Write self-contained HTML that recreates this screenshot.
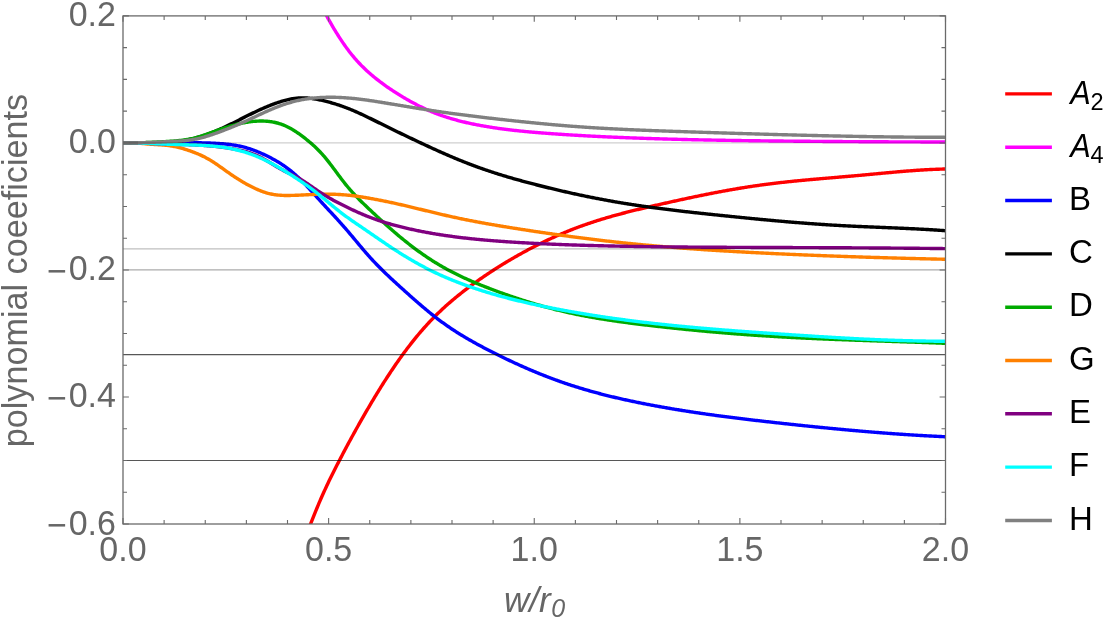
<!DOCTYPE html>
<html><head><meta charset="utf-8"><title>polynomial coefficients</title>
<style>html,body{margin:0;padding:0;background:#fff;}body{width:1104px;height:620px;overflow:hidden;}svg{display:block;}</style>
</head><body>
<svg width="1104" height="620" viewBox="0 0 1104 620">
<defs><clipPath id="pc"><rect x="123.00" y="15.90" width="822.50" height="508.10"/></clipPath></defs>
<g clip-path="url(#pc)" fill="none" stroke-width="3.40" stroke-linejoin="round" stroke-linecap="butt">
<path d="M300.00,551.81 301.00,549.16 302.00,546.51 303.00,543.87 304.00,541.23 305.00,538.59 306.00,535.96 307.00,533.34 308.00,530.73 309.00,528.13 310.00,525.54 311.00,522.97 312.00,520.42 313.00,517.89 314.00,515.38 315.00,512.89 316.00,510.43 317.00,507.99 318.00,505.59 319.00,503.21 320.00,500.86 321.00,498.55 322.00,496.27 323.00,494.02 324.00,491.80 325.00,489.61 326.00,487.44 327.00,485.31 328.00,483.19 329.00,481.10 330.00,479.03 331.00,476.98 332.00,474.96 333.00,472.95 334.00,470.95 335.00,468.97 336.00,467.01 337.00,465.06 338.00,463.12 339.00,461.19 340.00,459.26 341.00,457.35 342.00,455.45 343.00,453.55 344.00,451.66 345.00,449.77 346.00,447.90 347.00,446.03 348.00,444.17 349.00,442.31 350.00,440.47 351.00,438.63 352.00,436.79 353.00,434.97 354.00,433.15 355.00,431.34 356.00,429.54 357.00,427.75 358.00,425.96 359.00,424.18 360.00,422.41 361.00,420.64 362.00,418.88 363.00,417.13 364.00,415.39 365.00,413.65 366.00,411.92 367.00,410.20 368.00,408.49 369.00,406.78 370.00,405.08 371.00,403.39 372.00,401.71 373.00,400.03 374.00,398.37 375.00,396.71 376.00,395.06 377.00,393.42 378.00,391.79 379.00,390.16 380.00,388.55 381.00,386.95 382.00,385.35 383.00,383.76 384.00,382.19 385.00,380.62 386.00,379.06 387.00,377.52 388.00,375.98 389.00,374.45 390.00,372.94 391.00,371.43 392.00,369.94 393.00,368.45 394.00,366.98 395.00,365.52 396.00,364.06 397.00,362.62 398.00,361.19 399.00,359.78 400.00,358.37 401.00,356.97 402.00,355.59 403.00,354.22 404.00,352.86 405.00,351.50 406.00,350.17 407.00,348.84 408.00,347.52 409.00,346.21 410.00,344.92 411.00,343.64 412.00,342.37 413.00,341.11 414.00,339.86 415.00,338.62 416.00,337.39 417.00,336.18 418.00,334.98 419.00,333.78 420.00,332.60 421.00,331.44 422.00,330.28 423.00,329.13 424.00,328.00 425.00,326.88 426.00,325.77 427.00,324.67 428.00,323.58 429.00,322.50 430.00,321.44 431.00,320.38 432.00,319.34 433.00,318.31 434.00,317.29 435.00,316.28 436.00,315.29 437.00,314.30 438.00,313.32 439.00,312.35 440.00,311.40 441.00,310.45 442.00,309.51 443.00,308.58 444.00,307.67 445.00,306.76 446.00,305.85 447.00,304.96 448.00,304.08 449.00,303.20 450.00,302.34 451.00,301.48 452.00,300.62 453.00,299.78 454.00,298.94 455.00,298.11 456.00,297.29 457.00,296.48 458.00,295.67 459.00,294.86 460.00,294.07 461.00,293.28 462.00,292.49 463.00,291.72 464.00,290.94 465.00,290.18 466.00,289.41 467.00,288.66 468.00,287.90 469.00,287.16 470.00,286.41 471.00,285.67 472.00,284.94 473.00,284.21 474.00,283.48 475.00,282.76 476.00,282.04 477.00,281.33 478.00,280.62 479.00,279.91 480.00,279.21 481.00,278.51 482.00,277.82 483.00,277.13 484.00,276.44 485.00,275.76 486.00,275.08 487.00,274.41 488.00,273.74 489.00,273.08 490.00,272.41 491.00,271.75 492.00,271.10 493.00,270.45 494.00,269.80 495.00,269.16 496.00,268.52 497.00,267.88 498.00,267.25 499.00,266.62 500.00,266.00 501.00,265.38 502.00,264.76 503.00,264.14 504.00,263.53 505.00,262.93 506.00,262.32 507.00,261.72 508.00,261.12 509.00,260.53 510.00,259.94 511.00,259.35 512.00,258.77 513.00,258.19 514.00,257.61 515.00,257.04 516.00,256.47 517.00,255.90 518.00,255.34 519.00,254.78 520.00,254.22 521.00,253.67 522.00,253.11 523.00,252.57 524.00,252.02 525.00,251.48 526.00,250.94 527.00,250.40 528.00,249.87 529.00,249.34 530.00,248.82 531.00,248.29 532.00,247.77 533.00,247.26 534.00,246.74 535.00,246.23 536.00,245.72 537.00,245.22 538.00,244.72 539.00,244.22 540.00,243.73 541.00,243.23 542.00,242.75 543.00,242.26 544.00,241.78 545.00,241.30 546.00,240.82 547.00,240.35 548.00,239.88 549.00,239.41 550.00,238.95 551.00,238.49 552.00,238.03 553.00,237.58 554.00,237.13 555.00,236.68 556.00,236.24 557.00,235.80 558.00,235.36 559.00,234.92 560.00,234.49 561.00,234.06 562.00,233.64 563.00,233.22 564.00,232.80 565.00,232.38 566.00,231.97 567.00,231.56 568.00,231.15 569.00,230.75 570.00,230.35 571.00,229.95 572.00,229.56 573.00,229.17 574.00,228.78 575.00,228.40 576.00,228.02 577.00,227.64 578.00,227.27 579.00,226.90 580.00,226.53 581.00,226.16 582.00,225.80 583.00,225.44 584.00,225.09 585.00,224.74 586.00,224.39 587.00,224.04 588.00,223.70 589.00,223.36 590.00,223.02 591.00,222.68 592.00,222.35 593.00,222.02 594.00,221.70 595.00,221.37 596.00,221.05 597.00,220.73 598.00,220.42 599.00,220.10 600.00,219.79 601.00,219.48 602.00,219.18 603.00,218.87 604.00,218.57 605.00,218.27 606.00,217.98 607.00,217.68 608.00,217.39 609.00,217.10 610.00,216.81 611.00,216.53 612.00,216.24 613.00,215.96 614.00,215.68 615.00,215.41 616.00,215.13 617.00,214.86 618.00,214.59 619.00,214.32 620.00,214.05 621.00,213.78 622.00,213.52 623.00,213.25 624.00,212.99 625.00,212.73 626.00,212.47 627.00,212.22 628.00,211.96 629.00,211.71 630.00,211.45 631.00,211.20 632.00,210.95 633.00,210.71 634.00,210.46 635.00,210.21 636.00,209.97 637.00,209.72 638.00,209.48 639.00,209.24 640.00,209.00 641.00,208.76 642.00,208.52 643.00,208.29 644.00,208.05 645.00,207.82 646.00,207.58 647.00,207.35 648.00,207.11 649.00,206.88 650.00,206.65 651.00,206.42 652.00,206.19 653.00,205.96 654.00,205.73 655.00,205.50 656.00,205.27 657.00,205.05 658.00,204.82 659.00,204.59 660.00,204.37 661.00,204.14 662.00,203.91 663.00,203.69 664.00,203.46 665.00,203.24 666.00,203.01 667.00,202.79 668.00,202.57 669.00,202.34 670.00,202.12 671.00,201.90 672.00,201.68 673.00,201.45 674.00,201.23 675.00,201.01 676.00,200.79 677.00,200.57 678.00,200.35 679.00,200.13 680.00,199.92 681.00,199.70 682.00,199.48 683.00,199.27 684.00,199.05 685.00,198.83 686.00,198.62 687.00,198.40 688.00,198.19 689.00,197.98 690.00,197.77 691.00,197.55 692.00,197.34 693.00,197.13 694.00,196.92 695.00,196.71 696.00,196.51 697.00,196.30 698.00,196.09 699.00,195.88 700.00,195.68 701.00,195.47 702.00,195.27 703.00,195.07 704.00,194.87 705.00,194.66 706.00,194.46 707.00,194.26 708.00,194.07 709.00,193.87 710.00,193.67 711.00,193.47 712.00,193.28 713.00,193.08 714.00,192.89 715.00,192.70 716.00,192.51 717.00,192.31 718.00,192.12 719.00,191.94 720.00,191.75 721.00,191.56 722.00,191.37 723.00,191.19 724.00,191.01 725.00,190.82 726.00,190.64 727.00,190.46 728.00,190.28 729.00,190.10 730.00,189.92 731.00,189.75 732.00,189.57 733.00,189.40 734.00,189.23 735.00,189.05 736.00,188.88 737.00,188.71 738.00,188.55 739.00,188.38 740.00,188.21 741.00,188.05 742.00,187.88 743.00,187.72 744.00,187.56 745.00,187.40 746.00,187.24 747.00,187.09 748.00,186.93 749.00,186.78 750.00,186.62 751.00,186.47 752.00,186.32 753.00,186.17 754.00,186.02 755.00,185.88 756.00,185.73 757.00,185.59 758.00,185.45 759.00,185.31 760.00,185.17 761.00,185.03 762.00,184.89 763.00,184.76 764.00,184.62 765.00,184.49 766.00,184.36 767.00,184.23 768.00,184.10 769.00,183.97 770.00,183.85 771.00,183.72 772.00,183.60 773.00,183.48 774.00,183.36 775.00,183.24 776.00,183.12 777.00,183.00 778.00,182.89 779.00,182.77 780.00,182.66 781.00,182.55 782.00,182.43 783.00,182.32 784.00,182.21 785.00,182.10 786.00,182.00 787.00,181.89 788.00,181.78 789.00,181.68 790.00,181.57 791.00,181.47 792.00,181.37 793.00,181.27 794.00,181.16 795.00,181.06 796.00,180.97 797.00,180.87 798.00,180.77 799.00,180.67 800.00,180.58 801.00,180.48 802.00,180.38 803.00,180.29 804.00,180.20 805.00,180.10 806.00,180.01 807.00,179.92 808.00,179.83 809.00,179.74 810.00,179.65 811.00,179.55 812.00,179.47 813.00,179.38 814.00,179.29 815.00,179.20 816.00,179.11 817.00,179.02 818.00,178.94 819.00,178.85 820.00,178.76 821.00,178.68 822.00,178.59 823.00,178.50 824.00,178.42 825.00,178.33 826.00,178.25 827.00,178.16 828.00,178.08 829.00,177.99 830.00,177.91 831.00,177.82 832.00,177.74 833.00,177.66 834.00,177.57 835.00,177.49 836.00,177.40 837.00,177.32 838.00,177.23 839.00,177.15 840.00,177.06 841.00,176.98 842.00,176.90 843.00,176.81 844.00,176.73 845.00,176.64 846.00,176.55 847.00,176.47 848.00,176.38 849.00,176.30 850.00,176.21 851.00,176.12 852.00,176.04 853.00,175.95 854.00,175.86 855.00,175.77 856.00,175.68 857.00,175.60 858.00,175.51 859.00,175.42 860.00,175.33 861.00,175.24 862.00,175.14 863.00,175.05 864.00,174.96 865.00,174.87 866.00,174.78 867.00,174.68 868.00,174.59 869.00,174.50 870.00,174.40 871.00,174.31 872.00,174.21 873.00,174.12 874.00,174.02 875.00,173.93 876.00,173.84 877.00,173.74 878.00,173.65 879.00,173.55 880.00,173.46 881.00,173.36 882.00,173.27 883.00,173.18 884.00,173.08 885.00,172.99 886.00,172.90 887.00,172.80 888.00,172.71 889.00,172.62 890.00,172.53 891.00,172.44 892.00,172.35 893.00,172.26 894.00,172.17 895.00,172.08 896.00,171.99 897.00,171.90 898.00,171.81 899.00,171.73 900.00,171.64 901.00,171.56 902.00,171.47 903.00,171.39 904.00,171.31 905.00,171.23 906.00,171.14 907.00,171.06 908.00,170.99 909.00,170.91 910.00,170.83 911.00,170.75 912.00,170.68 913.00,170.61 914.00,170.53 915.00,170.46 916.00,170.39 917.00,170.32 918.00,170.26 919.00,170.19 920.00,170.12 921.00,170.06 922.00,170.00 923.00,169.94 924.00,169.88 925.00,169.82 926.00,169.76 927.00,169.71 928.00,169.66 929.00,169.60 930.00,169.55 931.00,169.50 932.00,169.46 933.00,169.41 934.00,169.37 935.00,169.33 936.00,169.29 937.00,169.25 938.00,169.22 939.00,169.18 940.00,169.15 941.00,169.12 942.00,169.09 943.00,169.07 944.00,169.04 945.00,169.02 946.00,169.00 947.00,168.98 948.00,168.97 949.00,168.95 950.00,168.94" stroke="#ff0000"/>
<path d="M321.00,5.00 322.00,7.00 323.00,8.97 324.00,10.90 325.00,12.81 326.00,14.69 327.00,16.54 328.00,18.36 329.00,20.15 330.00,21.92 331.00,23.67 332.00,25.39 333.00,27.08 334.00,28.76 335.00,30.41 336.00,32.04 337.00,33.65 338.00,35.24 339.00,36.81 340.00,38.35 341.00,39.87 342.00,41.37 343.00,42.85 344.00,44.30 345.00,45.72 346.00,47.12 347.00,48.50 348.00,49.85 349.00,51.17 350.00,52.47 351.00,53.73 352.00,54.98 353.00,56.19 354.00,57.38 355.00,58.55 356.00,59.69 357.00,60.81 358.00,61.91 359.00,62.98 360.00,64.04 361.00,65.07 362.00,66.09 363.00,67.08 364.00,68.06 365.00,69.02 366.00,69.96 367.00,70.89 368.00,71.80 369.00,72.70 370.00,73.58 371.00,74.45 372.00,75.31 373.00,76.15 374.00,76.98 375.00,77.80 376.00,78.61 377.00,79.40 378.00,80.19 379.00,80.96 380.00,81.73 381.00,82.48 382.00,83.23 383.00,83.96 384.00,84.69 385.00,85.40 386.00,86.11 387.00,86.81 388.00,87.50 389.00,88.19 390.00,88.86 391.00,89.53 392.00,90.20 393.00,90.85 394.00,91.50 395.00,92.15 396.00,92.79 397.00,93.42 398.00,94.05 399.00,94.67 400.00,95.29 401.00,95.90 402.00,96.51 403.00,97.11 404.00,97.71 405.00,98.30 406.00,98.88 407.00,99.46 408.00,100.03 409.00,100.60 410.00,101.15 411.00,101.71 412.00,102.26 413.00,102.80 414.00,103.33 415.00,103.86 416.00,104.38 417.00,104.90 418.00,105.41 419.00,105.91 420.00,106.41 421.00,106.90 422.00,107.38 423.00,107.86 424.00,108.33 425.00,108.80 426.00,109.25 427.00,109.70 428.00,110.15 429.00,110.58 430.00,111.01 431.00,111.43 432.00,111.85 433.00,112.26 434.00,112.66 435.00,113.06 436.00,113.45 437.00,113.83 438.00,114.20 439.00,114.57 440.00,114.94 441.00,115.29 442.00,115.65 443.00,115.99 444.00,116.33 445.00,116.66 446.00,116.99 447.00,117.31 448.00,117.63 449.00,117.94 450.00,118.25 451.00,118.55 452.00,118.85 453.00,119.14 454.00,119.42 455.00,119.70 456.00,119.98 457.00,120.25 458.00,120.52 459.00,120.78 460.00,121.04 461.00,121.29 462.00,121.54 463.00,121.78 464.00,122.02 465.00,122.26 466.00,122.49 467.00,122.72 468.00,122.95 469.00,123.17 470.00,123.38 471.00,123.60 472.00,123.81 473.00,124.02 474.00,124.22 475.00,124.42 476.00,124.62 477.00,124.81 478.00,125.01 479.00,125.19 480.00,125.38 481.00,125.56 482.00,125.75 483.00,125.92 484.00,126.10 485.00,126.27 486.00,126.44 487.00,126.61 488.00,126.78 489.00,126.94 490.00,127.10 491.00,127.26 492.00,127.42 493.00,127.57 494.00,127.72 495.00,127.87 496.00,128.02 497.00,128.17 498.00,128.31 499.00,128.45 500.00,128.59 501.00,128.73 502.00,128.86 503.00,129.00 504.00,129.13 505.00,129.26 506.00,129.38 507.00,129.51 508.00,129.63 509.00,129.75 510.00,129.87 511.00,129.99 512.00,130.11 513.00,130.22 514.00,130.34 515.00,130.45 516.00,130.56 517.00,130.66 518.00,130.77 519.00,130.88 520.00,130.98 521.00,131.08 522.00,131.18 523.00,131.28 524.00,131.38 525.00,131.48 526.00,131.57 527.00,131.67 528.00,131.76 529.00,131.85 530.00,131.94 531.00,132.03 532.00,132.12 533.00,132.21 534.00,132.29 535.00,132.38 536.00,132.46 537.00,132.55 538.00,132.63 539.00,132.71 540.00,132.79 541.00,132.87 542.00,132.95 543.00,133.02 544.00,133.10 545.00,133.18 546.00,133.25 547.00,133.33 548.00,133.40 549.00,133.48 550.00,133.55 551.00,133.62 552.00,133.69 553.00,133.77 554.00,133.84 555.00,133.91 556.00,133.98 557.00,134.05 558.00,134.11 559.00,134.18 560.00,134.25 561.00,134.32 562.00,134.38 563.00,134.45 564.00,134.52 565.00,134.58 566.00,134.64 567.00,134.71 568.00,134.77 569.00,134.84 570.00,134.90 571.00,134.96 572.00,135.02 573.00,135.08 574.00,135.14 575.00,135.20 576.00,135.26 577.00,135.32 578.00,135.38 579.00,135.44 580.00,135.50 581.00,135.55 582.00,135.61 583.00,135.67 584.00,135.72 585.00,135.78 586.00,135.83 587.00,135.89 588.00,135.94 589.00,135.99 590.00,136.05 591.00,136.10 592.00,136.15 593.00,136.20 594.00,136.25 595.00,136.31 596.00,136.36 597.00,136.41 598.00,136.46 599.00,136.50 600.00,136.55 601.00,136.60 602.00,136.65 603.00,136.70 604.00,136.75 605.00,136.79 606.00,136.84 607.00,136.88 608.00,136.93 609.00,136.98 610.00,137.02 611.00,137.06 612.00,137.11 613.00,137.15 614.00,137.20 615.00,137.24 616.00,137.28 617.00,137.32 618.00,137.37 619.00,137.41 620.00,137.45 621.00,137.49 622.00,137.53 623.00,137.57 624.00,137.61 625.00,137.65 626.00,137.69 627.00,137.73 628.00,137.77 629.00,137.81 630.00,137.84 631.00,137.88 632.00,137.92 633.00,137.96 634.00,137.99 635.00,138.03 636.00,138.06 637.00,138.10 638.00,138.14 639.00,138.17 640.00,138.21 641.00,138.24 642.00,138.27 643.00,138.31 644.00,138.34 645.00,138.38 646.00,138.41 647.00,138.44 648.00,138.48 649.00,138.51 650.00,138.54 651.00,138.57 652.00,138.60 653.00,138.63 654.00,138.67 655.00,138.70 656.00,138.73 657.00,138.76 658.00,138.79 659.00,138.82 660.00,138.85 661.00,138.88 662.00,138.91 663.00,138.94 664.00,138.96 665.00,138.99 666.00,139.02 667.00,139.05 668.00,139.08 669.00,139.10 670.00,139.13 671.00,139.16 672.00,139.19 673.00,139.21 674.00,139.24 675.00,139.26 676.00,139.29 677.00,139.32 678.00,139.34 679.00,139.37 680.00,139.39 681.00,139.42 682.00,139.44 683.00,139.47 684.00,139.49 685.00,139.51 686.00,139.54 687.00,139.56 688.00,139.59 689.00,139.61 690.00,139.63 691.00,139.65 692.00,139.68 693.00,139.70 694.00,139.72 695.00,139.74 696.00,139.77 697.00,139.79 698.00,139.81 699.00,139.83 700.00,139.85 701.00,139.87 702.00,139.89 703.00,139.91 704.00,139.93 705.00,139.95 706.00,139.97 707.00,139.99 708.00,140.01 709.00,140.03 710.00,140.05 711.00,140.07 712.00,140.09 713.00,140.11 714.00,140.13 715.00,140.15 716.00,140.16 717.00,140.18 718.00,140.20 719.00,140.22 720.00,140.23 721.00,140.25 722.00,140.27 723.00,140.29 724.00,140.30 725.00,140.32 726.00,140.34 727.00,140.35 728.00,140.37 729.00,140.39 730.00,140.40 731.00,140.42 732.00,140.43 733.00,140.45 734.00,140.46 735.00,140.48 736.00,140.49 737.00,140.51 738.00,140.52 739.00,140.54 740.00,140.55 741.00,140.57 742.00,140.58 743.00,140.60 744.00,140.61 745.00,140.63 746.00,140.64 747.00,140.65 748.00,140.67 749.00,140.68 750.00,140.69 751.00,140.71 752.00,140.72 753.00,140.73 754.00,140.75 755.00,140.76 756.00,140.77 757.00,140.78 758.00,140.80 759.00,140.81 760.00,140.82 761.00,140.83 762.00,140.84 763.00,140.86 764.00,140.87 765.00,140.88 766.00,140.89 767.00,140.90 768.00,140.91 769.00,140.93 770.00,140.94 771.00,140.95 772.00,140.96 773.00,140.97 774.00,140.98 775.00,140.99 776.00,141.00 777.00,141.01 778.00,141.02 779.00,141.03 780.00,141.04 781.00,141.05 782.00,141.06 783.00,141.07 784.00,141.09 785.00,141.10 786.00,141.10 787.00,141.11 788.00,141.12 789.00,141.13 790.00,141.14 791.00,141.15 792.00,141.16 793.00,141.17 794.00,141.18 795.00,141.19 796.00,141.20 797.00,141.21 798.00,141.22 799.00,141.23 800.00,141.24 801.00,141.25 802.00,141.26 803.00,141.26 804.00,141.27 805.00,141.28 806.00,141.29 807.00,141.30 808.00,141.31 809.00,141.32 810.00,141.32 811.00,141.33 812.00,141.34 813.00,141.35 814.00,141.36 815.00,141.37 816.00,141.38 817.00,141.38 818.00,141.39 819.00,141.40 820.00,141.41 821.00,141.42 822.00,141.42 823.00,141.43 824.00,141.44 825.00,141.45 826.00,141.45 827.00,141.46 828.00,141.47 829.00,141.48 830.00,141.49 831.00,141.49 832.00,141.50 833.00,141.51 834.00,141.51 835.00,141.52 836.00,141.53 837.00,141.54 838.00,141.54 839.00,141.55 840.00,141.56 841.00,141.56 842.00,141.57 843.00,141.58 844.00,141.58 845.00,141.59 846.00,141.60 847.00,141.60 848.00,141.61 849.00,141.62 850.00,141.62 851.00,141.63 852.00,141.64 853.00,141.64 854.00,141.65 855.00,141.65 856.00,141.66 857.00,141.67 858.00,141.67 859.00,141.68 860.00,141.68 861.00,141.69 862.00,141.70 863.00,141.70 864.00,141.71 865.00,141.71 866.00,141.72 867.00,141.72 868.00,141.73 869.00,141.73 870.00,141.74 871.00,141.74 872.00,141.75 873.00,141.75 874.00,141.76 875.00,141.76 876.00,141.77 877.00,141.77 878.00,141.78 879.00,141.78 880.00,141.79 881.00,141.79 882.00,141.80 883.00,141.80 884.00,141.81 885.00,141.81 886.00,141.81 887.00,141.82 888.00,141.82 889.00,141.83 890.00,141.83 891.00,141.84 892.00,141.84 893.00,141.84 894.00,141.85 895.00,141.85 896.00,141.85 897.00,141.86 898.00,141.86 899.00,141.87 900.00,141.87 901.00,141.87 902.00,141.88 903.00,141.88 904.00,141.88 905.00,141.88 906.00,141.89 907.00,141.89 908.00,141.89 909.00,141.90 910.00,141.90 911.00,141.90 912.00,141.90 913.00,141.91 914.00,141.91 915.00,141.91 916.00,141.91 917.00,141.92 918.00,141.92 919.00,141.92 920.00,141.92 921.00,141.93 922.00,141.93 923.00,141.93 924.00,141.93 925.00,141.93 926.00,141.94 927.00,141.94 928.00,141.94 929.00,141.94 930.00,141.94 931.00,141.94 932.00,141.94 933.00,141.95 934.00,141.95 935.00,141.95 936.00,141.95 937.00,141.95 938.00,141.95 939.00,141.95 940.00,141.95 941.00,141.95 942.00,141.95 943.00,141.96 944.00,141.96 945.00,141.96 946.00,141.96 947.00,141.96 948.00,141.96 949.00,141.96 950.00,141.96" stroke="#ff00ff"/>
<path d="M123.20,142.85 124.20,142.86 125.20,142.87 126.20,142.88 127.20,142.89 128.20,142.90 129.20,142.91 130.20,142.91 131.20,142.92 132.20,142.92 133.20,142.93 134.20,142.93 135.20,142.93 136.20,142.94 137.20,142.94 138.20,142.94 139.20,142.94 140.20,142.94 141.20,142.94 142.20,142.94 143.20,142.94 144.20,142.94 145.20,142.94 146.20,142.93 147.20,142.93 148.20,142.93 149.20,142.92 150.20,142.92 151.20,142.91 152.20,142.91 153.20,142.91 154.20,142.90 155.20,142.89 156.20,142.89 157.20,142.88 158.20,142.88 159.20,142.87 160.20,142.87 161.20,142.86 162.20,142.85 163.20,142.85 164.20,142.84 165.20,142.83 166.20,142.83 167.20,142.82 168.20,142.81 169.20,142.81 170.20,142.80 171.20,142.79 172.20,142.79 173.20,142.78 174.20,142.77 175.20,142.77 176.20,142.76 177.20,142.76 178.20,142.75 179.20,142.75 180.20,142.74 181.20,142.74 182.20,142.73 183.20,142.73 184.20,142.73 185.20,142.72 186.20,142.72 187.20,142.72 188.20,142.72 189.20,142.72 190.20,142.72 191.20,142.73 192.20,142.73 193.20,142.73 194.20,142.74 195.20,142.75 196.20,142.76 197.20,142.77 198.20,142.78 199.20,142.79 200.20,142.81 201.20,142.82 202.20,142.84 203.20,142.86 204.20,142.89 205.20,142.91 206.20,142.94 207.20,142.97 208.20,143.00 209.20,143.03 210.20,143.07 211.20,143.10 212.20,143.15 213.20,143.19 214.20,143.24 215.20,143.28 216.20,143.34 217.20,143.39 218.20,143.45 219.20,143.51 220.20,143.58 221.20,143.65 222.20,143.73 223.20,143.81 224.20,143.89 225.20,143.98 226.20,144.08 227.20,144.19 228.20,144.30 229.20,144.41 230.20,144.54 231.20,144.67 232.20,144.81 233.20,144.96 234.20,145.11 235.20,145.28 236.20,145.45 237.20,145.63 238.20,145.82 239.20,146.03 240.20,146.24 241.20,146.46 242.20,146.69 243.20,146.94 244.20,147.19 245.20,147.46 246.20,147.74 247.20,148.03 248.20,148.33 249.20,148.64 250.20,148.97 251.20,149.30 252.20,149.65 253.20,150.01 254.20,150.37 255.20,150.75 256.20,151.14 257.20,151.54 258.20,151.95 259.20,152.37 260.20,152.79 261.20,153.23 262.20,153.68 263.20,154.14 264.20,154.60 265.20,155.08 266.20,155.56 267.20,156.05 268.20,156.55 269.20,157.06 270.20,157.58 271.20,158.10 272.20,158.63 273.20,159.18 274.20,159.73 275.20,160.29 276.20,160.87 277.20,161.45 278.20,162.05 279.20,162.66 280.20,163.28 281.20,163.92 282.20,164.57 283.20,165.23 284.20,165.91 285.20,166.61 286.20,167.32 287.20,168.05 288.20,168.79 289.20,169.56 290.20,170.34 291.20,171.14 292.20,171.96 293.20,172.80 294.20,173.67 295.20,174.55 296.20,175.45 297.20,176.38 298.20,177.32 299.20,178.28 300.20,179.26 301.20,180.26 302.20,181.27 303.20,182.29 304.20,183.33 305.20,184.38 306.20,185.44 307.20,186.51 308.20,187.59 309.20,188.67 310.20,189.76 311.20,190.86 312.20,191.96 313.20,193.07 314.20,194.18 315.20,195.28 316.20,196.39 317.20,197.50 318.20,198.61 319.20,199.71 320.20,200.81 321.20,201.90 322.20,202.99 323.20,204.08 324.20,205.16 325.20,206.24 326.20,207.32 327.20,208.39 328.20,209.47 329.20,210.54 330.20,211.62 331.20,212.70 332.20,213.77 333.20,214.85 334.20,215.94 335.20,217.02 336.20,218.11 337.20,219.20 338.20,220.30 339.20,221.41 340.20,222.52 341.20,223.63 342.20,224.76 343.20,225.89 344.20,227.03 345.20,228.18 346.20,229.33 347.20,230.50 348.20,231.67 349.20,232.85 350.20,234.04 351.20,235.23 352.20,236.42 353.20,237.62 354.20,238.82 355.20,240.02 356.20,241.22 357.20,242.42 358.20,243.62 359.20,244.81 360.20,246.00 361.20,247.19 362.20,248.38 363.20,249.56 364.20,250.73 365.20,251.89 366.20,253.05 367.20,254.19 368.20,255.33 369.20,256.45 370.20,257.57 371.20,258.67 372.20,259.76 373.20,260.83 374.20,261.90 375.20,262.95 376.20,263.99 377.20,265.03 378.20,266.05 379.20,267.06 380.20,268.07 381.20,269.07 382.20,270.05 383.20,271.03 384.20,272.01 385.20,272.97 386.20,273.93 387.20,274.88 388.20,275.83 389.20,276.77 390.20,277.71 391.20,278.64 392.20,279.57 393.20,280.49 394.20,281.41 395.20,282.33 396.20,283.25 397.20,284.16 398.20,285.07 399.20,285.98 400.20,286.89 401.20,287.79 402.20,288.70 403.20,289.60 404.20,290.51 405.20,291.41 406.20,292.31 407.20,293.21 408.20,294.11 409.20,295.00 410.20,295.90 411.20,296.79 412.20,297.67 413.20,298.56 414.20,299.44 415.20,300.32 416.20,301.19 417.20,302.07 418.20,302.94 419.20,303.80 420.20,304.66 421.20,305.52 422.20,306.37 423.20,307.22 424.20,308.06 425.20,308.90 426.20,309.73 427.20,310.56 428.20,311.39 429.20,312.20 430.20,313.02 431.20,313.82 432.20,314.62 433.20,315.42 434.20,316.21 435.20,316.99 436.20,317.76 437.20,318.53 438.20,319.29 439.20,320.05 440.20,320.79 441.20,321.53 442.20,322.26 443.20,322.99 444.20,323.71 445.20,324.42 446.20,325.12 447.20,325.82 448.20,326.51 449.20,327.20 450.20,327.87 451.20,328.55 452.20,329.21 453.20,329.87 454.20,330.52 455.20,331.17 456.20,331.81 457.20,332.45 458.20,333.08 459.20,333.71 460.20,334.33 461.20,334.94 462.20,335.55 463.20,336.16 464.20,336.76 465.20,337.35 466.20,337.94 467.20,338.53 468.20,339.11 469.20,339.69 470.20,340.26 471.20,340.83 472.20,341.39 473.20,341.96 474.20,342.51 475.20,343.07 476.20,343.62 477.20,344.16 478.20,344.71 479.20,345.25 480.20,345.78 481.20,346.32 482.20,346.85 483.20,347.38 484.20,347.90 485.20,348.43 486.20,348.95 487.20,349.47 488.20,349.98 489.20,350.50 490.20,351.01 491.20,351.52 492.20,352.03 493.20,352.53 494.20,353.04 495.20,353.54 496.20,354.04 497.20,354.54 498.20,355.04 499.20,355.53 500.20,356.02 501.20,356.51 502.20,357.00 503.20,357.49 504.20,357.97 505.20,358.46 506.20,358.94 507.20,359.42 508.20,359.89 509.20,360.37 510.20,360.84 511.20,361.31 512.20,361.78 513.20,362.24 514.20,362.70 515.20,363.17 516.20,363.62 517.20,364.08 518.20,364.54 519.20,364.99 520.20,365.44 521.20,365.89 522.20,366.33 523.20,366.78 524.20,367.22 525.20,367.66 526.20,368.09 527.20,368.53 528.20,368.96 529.20,369.39 530.20,369.82 531.20,370.25 532.20,370.67 533.20,371.09 534.20,371.51 535.20,371.92 536.20,372.34 537.20,372.75 538.20,373.16 539.20,373.56 540.20,373.97 541.20,374.37 542.20,374.77 543.20,375.17 544.20,375.56 545.20,375.95 546.20,376.34 547.20,376.73 548.20,377.12 549.20,377.50 550.20,377.88 551.20,378.25 552.20,378.63 553.20,379.00 554.20,379.37 555.20,379.74 556.20,380.10 557.20,380.46 558.20,380.82 559.20,381.18 560.20,381.53 561.20,381.89 562.20,382.24 563.20,382.58 564.20,382.93 565.20,383.27 566.20,383.61 567.20,383.94 568.20,384.28 569.20,384.61 570.20,384.94 571.20,385.26 572.20,385.59 573.20,385.91 574.20,386.23 575.20,386.54 576.20,386.86 577.20,387.17 578.20,387.48 579.20,387.79 580.20,388.09 581.20,388.40 582.20,388.70 583.20,389.00 584.20,389.29 585.20,389.59 586.20,389.88 587.20,390.17 588.20,390.46 589.20,390.74 590.20,391.03 591.20,391.31 592.20,391.59 593.20,391.87 594.20,392.14 595.20,392.42 596.20,392.69 597.20,392.96 598.20,393.22 599.20,393.49 600.20,393.75 601.20,394.02 602.20,394.28 603.20,394.53 604.20,394.79 605.20,395.04 606.20,395.30 607.20,395.55 608.20,395.80 609.20,396.04 610.20,396.29 611.20,396.53 612.20,396.78 613.20,397.02 614.20,397.25 615.20,397.49 616.20,397.73 617.20,397.96 618.20,398.19 619.20,398.42 620.20,398.65 621.20,398.88 622.20,399.11 623.20,399.33 624.20,399.55 625.20,399.77 626.20,399.99 627.20,400.21 628.20,400.43 629.20,400.65 630.20,400.86 631.20,401.07 632.20,401.28 633.20,401.49 634.20,401.70 635.20,401.91 636.20,402.12 637.20,402.32 638.20,402.53 639.20,402.73 640.20,402.93 641.20,403.13 642.20,403.33 643.20,403.53 644.20,403.72 645.20,403.92 646.20,404.11 647.20,404.30 648.20,404.50 649.20,404.69 650.20,404.88 651.20,405.07 652.20,405.25 653.20,405.44 654.20,405.63 655.20,405.81 656.20,406.00 657.20,406.18 658.20,406.36 659.20,406.54 660.20,406.72 661.20,406.90 662.20,407.08 663.20,407.26 664.20,407.43 665.20,407.61 666.20,407.78 667.20,407.96 668.20,408.13 669.20,408.30 670.20,408.47 671.20,408.64 672.20,408.81 673.20,408.98 674.20,409.14 675.20,409.31 676.20,409.47 677.20,409.64 678.20,409.80 679.20,409.97 680.20,410.13 681.20,410.29 682.20,410.45 683.20,410.61 684.20,410.77 685.20,410.92 686.20,411.08 687.20,411.24 688.20,411.39 689.20,411.55 690.20,411.70 691.20,411.85 692.20,412.01 693.20,412.16 694.20,412.31 695.20,412.46 696.20,412.61 697.20,412.76 698.20,412.90 699.20,413.05 700.20,413.20 701.20,413.34 702.20,413.49 703.20,413.63 704.20,413.78 705.20,413.92 706.20,414.06 707.20,414.20 708.20,414.34 709.20,414.48 710.20,414.62 711.20,414.76 712.20,414.90 713.20,415.04 714.20,415.17 715.20,415.31 716.20,415.45 717.20,415.58 718.20,415.72 719.20,415.85 720.20,415.98 721.20,416.12 722.20,416.25 723.20,416.38 724.20,416.51 725.20,416.64 726.20,416.77 727.20,416.90 728.20,417.03 729.20,417.16 730.20,417.29 731.20,417.41 732.20,417.54 733.20,417.67 734.20,417.79 735.20,417.92 736.20,418.04 737.20,418.17 738.20,418.29 739.20,418.41 740.20,418.54 741.20,418.66 742.20,418.78 743.20,418.90 744.20,419.02 745.20,419.14 746.20,419.26 747.20,419.38 748.20,419.50 749.20,419.62 750.20,419.74 751.20,419.86 752.20,419.98 753.20,420.09 754.20,420.21 755.20,420.33 756.20,420.44 757.20,420.56 758.20,420.68 759.20,420.79 760.20,420.91 761.20,421.02 762.20,421.13 763.20,421.25 764.20,421.36 765.20,421.48 766.20,421.59 767.20,421.70 768.20,421.81 769.20,421.93 770.20,422.04 771.20,422.15 772.20,422.26 773.20,422.37 774.20,422.48 775.20,422.59 776.20,422.71 777.20,422.82 778.20,422.93 779.20,423.04 780.20,423.15 781.20,423.25 782.20,423.36 783.20,423.47 784.20,423.58 785.20,423.69 786.20,423.80 787.20,423.91 788.20,424.02 789.20,424.12 790.20,424.23 791.20,424.34 792.20,424.44 793.20,424.55 794.20,424.66 795.20,424.76 796.20,424.87 797.20,424.98 798.20,425.08 799.20,425.19 800.20,425.29 801.20,425.40 802.20,425.50 803.20,425.61 804.20,425.71 805.20,425.82 806.20,425.92 807.20,426.02 808.20,426.13 809.20,426.23 810.20,426.33 811.20,426.43 812.20,426.54 813.20,426.64 814.20,426.74 815.20,426.84 816.20,426.94 817.20,427.04 818.20,427.14 819.20,427.24 820.20,427.34 821.20,427.44 822.20,427.54 823.20,427.64 824.20,427.74 825.20,427.84 826.20,427.93 827.20,428.03 828.20,428.13 829.20,428.23 830.20,428.32 831.20,428.42 832.20,428.52 833.20,428.61 834.20,428.71 835.20,428.80 836.20,428.90 837.20,428.99 838.20,429.09 839.20,429.18 840.20,429.27 841.20,429.37 842.20,429.46 843.20,429.55 844.20,429.64 845.20,429.74 846.20,429.83 847.20,429.92 848.20,430.01 849.20,430.10 850.20,430.19 851.20,430.28 852.20,430.37 853.20,430.46 854.20,430.55 855.20,430.63 856.20,430.72 857.20,430.81 858.20,430.90 859.20,430.98 860.20,431.07 861.20,431.15 862.20,431.24 863.20,431.33 864.20,431.41 865.20,431.49 866.20,431.58 867.20,431.66 868.20,431.74 869.20,431.83 870.20,431.91 871.20,431.99 872.20,432.07 873.20,432.15 874.20,432.23 875.20,432.32 876.20,432.39 877.20,432.47 878.20,432.55 879.20,432.63 880.20,432.71 881.20,432.79 882.20,432.86 883.20,432.94 884.20,433.02 885.20,433.09 886.20,433.17 887.20,433.24 888.20,433.32 889.20,433.39 890.20,433.47 891.20,433.54 892.20,433.61 893.20,433.68 894.20,433.76 895.20,433.83 896.20,433.90 897.20,433.97 898.20,434.04 899.20,434.11 900.20,434.18 901.20,434.25 902.20,434.31 903.20,434.38 904.20,434.45 905.20,434.51 906.20,434.58 907.20,434.65 908.20,434.71 909.20,434.78 910.20,434.84 911.20,434.90 912.20,434.97 913.20,435.03 914.20,435.09 915.20,435.15 916.20,435.21 917.20,435.27 918.20,435.33 919.20,435.39 920.20,435.45 921.20,435.51 922.20,435.57 923.20,435.63 924.20,435.68 925.20,435.74 926.20,435.79 927.20,435.85 928.20,435.90 929.20,435.96 930.20,436.01 931.20,436.06 932.20,436.12 933.20,436.17 934.20,436.22 935.20,436.27 936.20,436.32 937.20,436.37 938.20,436.42 939.20,436.47 940.20,436.52 941.20,436.56 942.20,436.61 943.20,436.66 944.20,436.70 945.20,436.75" stroke="#0000ff"/>
<path d="M123.20,142.92 124.20,142.91 125.20,142.90 126.20,142.89 127.20,142.88 128.20,142.88 129.20,142.87 130.20,142.87 131.20,142.87 132.20,142.87 133.20,142.88 134.20,142.88 135.20,142.89 136.20,142.89 137.20,142.90 138.20,142.90 139.20,142.91 140.20,142.92 141.20,142.92 142.20,142.93 143.20,142.93 144.20,142.94 145.20,142.94 146.20,142.94 147.20,142.95 148.20,142.95 149.20,142.94 150.20,142.94 151.20,142.93 152.20,142.92 153.20,142.91 154.20,142.90 155.20,142.88 156.20,142.87 157.20,142.84 158.20,142.82 159.20,142.79 160.20,142.76 161.20,142.72 162.20,142.68 163.20,142.63 164.20,142.59 165.20,142.53 166.20,142.47 167.20,142.41 168.20,142.34 169.20,142.27 170.20,142.19 171.20,142.10 172.20,142.01 173.20,141.92 174.20,141.81 175.20,141.70 176.20,141.59 177.20,141.46 178.20,141.33 179.20,141.20 180.20,141.06 181.20,140.91 182.20,140.75 183.20,140.58 184.20,140.41 185.20,140.23 186.20,140.05 187.20,139.85 188.20,139.65 189.20,139.45 190.20,139.23 191.20,139.00 192.20,138.77 193.20,138.53 194.20,138.29 195.20,138.03 196.20,137.77 197.20,137.49 198.20,137.21 199.20,136.92 200.20,136.63 201.20,136.32 202.20,136.00 203.20,135.68 204.20,135.35 205.20,135.01 206.20,134.67 207.20,134.31 208.20,133.95 209.20,133.58 210.20,133.20 211.20,132.82 212.20,132.43 213.20,132.03 214.20,131.63 215.20,131.22 216.20,130.80 217.20,130.38 218.20,129.95 219.20,129.52 220.20,129.08 221.20,128.63 222.20,128.18 223.20,127.72 224.20,127.26 225.20,126.79 226.20,126.32 227.20,125.84 228.20,125.36 229.20,124.88 230.20,124.39 231.20,123.90 232.20,123.41 233.20,122.91 234.20,122.41 235.20,121.91 236.20,121.41 237.20,120.90 238.20,120.40 239.20,119.89 240.20,119.38 241.20,118.88 242.20,118.37 243.20,117.86 244.20,117.36 245.20,116.85 246.20,116.35 247.20,115.85 248.20,115.35 249.20,114.85 250.20,114.36 251.20,113.87 252.20,113.38 253.20,112.89 254.20,112.41 255.20,111.93 256.20,111.46 257.20,110.99 258.20,110.53 259.20,110.06 260.20,109.61 261.20,109.16 262.20,108.71 263.20,108.27 264.20,107.83 265.20,107.40 266.20,106.98 267.20,106.56 268.20,106.15 269.20,105.74 270.20,105.34 271.20,104.95 272.20,104.57 273.20,104.19 274.20,103.82 275.20,103.45 276.20,103.10 277.20,102.75 278.20,102.41 279.20,102.08 280.20,101.76 281.20,101.45 282.20,101.15 283.20,100.86 284.20,100.58 285.20,100.31 286.20,100.06 287.20,99.81 288.20,99.58 289.20,99.36 290.20,99.16 291.20,98.96 292.20,98.79 293.20,98.62 294.20,98.48 295.20,98.34 296.20,98.23 297.20,98.13 298.20,98.04 299.20,97.98 300.20,97.93 301.20,97.89 302.20,97.88 303.20,97.88 304.20,97.90 305.20,97.93 306.20,97.98 307.20,98.04 308.20,98.12 309.20,98.21 310.20,98.32 311.20,98.43 312.20,98.56 313.20,98.70 314.20,98.86 315.20,99.02 316.20,99.19 317.20,99.38 318.20,99.57 319.20,99.77 320.20,99.99 321.20,100.20 322.20,100.43 323.20,100.66 324.20,100.91 325.20,101.15 326.20,101.40 327.20,101.66 328.20,101.93 329.20,102.20 330.20,102.47 331.20,102.75 332.20,103.04 333.20,103.34 334.20,103.64 335.20,103.94 336.20,104.25 337.20,104.57 338.20,104.90 339.20,105.23 340.20,105.56 341.20,105.91 342.20,106.26 343.20,106.61 344.20,106.98 345.20,107.35 346.20,107.72 347.20,108.10 348.20,108.49 349.20,108.89 350.20,109.29 351.20,109.70 352.20,110.11 353.20,110.53 354.20,110.96 355.20,111.40 356.20,111.83 357.20,112.28 358.20,112.73 359.20,113.18 360.20,113.64 361.20,114.10 362.20,114.56 363.20,115.03 364.20,115.51 365.20,115.98 366.20,116.46 367.20,116.94 368.20,117.43 369.20,117.91 370.20,118.40 371.20,118.89 372.20,119.39 373.20,119.88 374.20,120.37 375.20,120.87 376.20,121.37 377.20,121.86 378.20,122.36 379.20,122.85 380.20,123.35 381.20,123.84 382.20,124.34 383.20,124.83 384.20,125.33 385.20,125.82 386.20,126.31 387.20,126.80 388.20,127.29 389.20,127.78 390.20,128.27 391.20,128.76 392.20,129.25 393.20,129.74 394.20,130.23 395.20,130.71 396.20,131.20 397.20,131.68 398.20,132.17 399.20,132.65 400.20,133.13 401.20,133.62 402.20,134.10 403.20,134.58 404.20,135.06 405.20,135.54 406.20,136.02 407.20,136.50 408.20,136.97 409.20,137.45 410.20,137.93 411.20,138.40 412.20,138.88 413.20,139.35 414.20,139.83 415.20,140.30 416.20,140.77 417.20,141.24 418.20,141.71 419.20,142.18 420.20,142.65 421.20,143.12 422.20,143.59 423.20,144.05 424.20,144.52 425.20,144.99 426.20,145.45 427.20,145.91 428.20,146.37 429.20,146.84 430.20,147.30 431.20,147.75 432.20,148.21 433.20,148.67 434.20,149.12 435.20,149.58 436.20,150.03 437.20,150.48 438.20,150.93 439.20,151.38 440.20,151.82 441.20,152.27 442.20,152.71 443.20,153.15 444.20,153.59 445.20,154.03 446.20,154.47 447.20,154.90 448.20,155.34 449.20,155.77 450.20,156.20 451.20,156.63 452.20,157.05 453.20,157.47 454.20,157.90 455.20,158.31 456.20,158.73 457.20,159.15 458.20,159.56 459.20,159.97 460.20,160.38 461.20,160.78 462.20,161.19 463.20,161.59 464.20,161.99 465.20,162.38 466.20,162.77 467.20,163.16 468.20,163.55 469.20,163.94 470.20,164.32 471.20,164.70 472.20,165.08 473.20,165.45 474.20,165.82 475.20,166.19 476.20,166.56 477.20,166.92 478.20,167.28 479.20,167.64 480.20,168.00 481.20,168.35 482.20,168.70 483.20,169.05 484.20,169.40 485.20,169.74 486.20,170.08 487.20,170.42 488.20,170.76 489.20,171.10 490.20,171.43 491.20,171.76 492.20,172.09 493.20,172.41 494.20,172.74 495.20,173.06 496.20,173.38 497.20,173.70 498.20,174.01 499.20,174.32 500.20,174.64 501.20,174.94 502.20,175.25 503.20,175.56 504.20,175.86 505.20,176.16 506.20,176.46 507.20,176.76 508.20,177.06 509.20,177.35 510.20,177.64 511.20,177.94 512.20,178.22 513.20,178.51 514.20,178.80 515.20,179.08 516.20,179.37 517.20,179.65 518.20,179.93 519.20,180.21 520.20,180.48 521.20,180.76 522.20,181.03 523.20,181.30 524.20,181.58 525.20,181.85 526.20,182.11 527.20,182.38 528.20,182.65 529.20,182.91 530.20,183.17 531.20,183.44 532.20,183.70 533.20,183.96 534.20,184.22 535.20,184.47 536.20,184.73 537.20,184.99 538.20,185.24 539.20,185.49 540.20,185.75 541.20,186.00 542.20,186.25 543.20,186.50 544.20,186.75 545.20,187.00 546.20,187.24 547.20,187.49 548.20,187.73 549.20,187.98 550.20,188.22 551.20,188.46 552.20,188.70 553.20,188.94 554.20,189.18 555.20,189.42 556.20,189.66 557.20,189.90 558.20,190.13 559.20,190.36 560.20,190.60 561.20,190.83 562.20,191.06 563.20,191.29 564.20,191.52 565.20,191.75 566.20,191.98 567.20,192.20 568.20,192.43 569.20,192.65 570.20,192.87 571.20,193.10 572.20,193.32 573.20,193.54 574.20,193.76 575.20,193.97 576.20,194.19 577.20,194.41 578.20,194.62 579.20,194.84 580.20,195.05 581.20,195.26 582.20,195.47 583.20,195.68 584.20,195.89 585.20,196.10 586.20,196.30 587.20,196.51 588.20,196.71 589.20,196.91 590.20,197.12 591.20,197.32 592.20,197.52 593.20,197.72 594.20,197.91 595.20,198.11 596.20,198.30 597.20,198.50 598.20,198.69 599.20,198.88 600.20,199.08 601.20,199.27 602.20,199.45 603.20,199.64 604.20,199.83 605.20,200.01 606.20,200.20 607.20,200.38 608.20,200.56 609.20,200.74 610.20,200.92 611.20,201.10 612.20,201.28 613.20,201.46 614.20,201.63 615.20,201.81 616.20,201.98 617.20,202.15 618.20,202.32 619.20,202.49 620.20,202.66 621.20,202.83 622.20,202.99 623.20,203.16 624.20,203.32 625.20,203.48 626.20,203.64 627.20,203.80 628.20,203.96 629.20,204.12 630.20,204.28 631.20,204.43 632.20,204.59 633.20,204.74 634.20,204.90 635.20,205.05 636.20,205.20 637.20,205.35 638.20,205.50 639.20,205.64 640.20,205.79 641.20,205.94 642.20,206.08 643.20,206.23 644.20,206.37 645.20,206.51 646.20,206.65 647.20,206.79 648.20,206.93 649.20,207.07 650.20,207.21 651.20,207.35 652.20,207.48 653.20,207.62 654.20,207.75 655.20,207.89 656.20,208.02 657.20,208.15 658.20,208.28 659.20,208.41 660.20,208.54 661.20,208.67 662.20,208.80 663.20,208.93 664.20,209.05 665.20,209.18 666.20,209.31 667.20,209.43 668.20,209.56 669.20,209.68 670.20,209.80 671.20,209.92 672.20,210.05 673.20,210.17 674.20,210.29 675.20,210.41 676.20,210.53 677.20,210.64 678.20,210.76 679.20,210.88 680.20,211.00 681.20,211.11 682.20,211.23 683.20,211.34 684.20,211.46 685.20,211.57 686.20,211.69 687.20,211.80 688.20,211.91 689.20,212.02 690.20,212.14 691.20,212.25 692.20,212.36 693.20,212.47 694.20,212.58 695.20,212.69 696.20,212.80 697.20,212.91 698.20,213.02 699.20,213.13 700.20,213.23 701.20,213.34 702.20,213.45 703.20,213.56 704.20,213.66 705.20,213.77 706.20,213.88 707.20,213.98 708.20,214.09 709.20,214.19 710.20,214.30 711.20,214.40 712.20,214.51 713.20,214.61 714.20,214.72 715.20,214.82 716.20,214.93 717.20,215.03 718.20,215.14 719.20,215.24 720.20,215.34 721.20,215.45 722.20,215.55 723.20,215.65 724.20,215.76 725.20,215.86 726.20,215.96 727.20,216.06 728.20,216.17 729.20,216.27 730.20,216.37 731.20,216.47 732.20,216.58 733.20,216.68 734.20,216.78 735.20,216.88 736.20,216.98 737.20,217.08 738.20,217.18 739.20,217.28 740.20,217.38 741.20,217.48 742.20,217.58 743.20,217.68 744.20,217.78 745.20,217.88 746.20,217.98 747.20,218.08 748.20,218.18 749.20,218.28 750.20,218.38 751.20,218.47 752.20,218.57 753.20,218.67 754.20,218.76 755.20,218.86 756.20,218.96 757.20,219.05 758.20,219.15 759.20,219.25 760.20,219.34 761.20,219.44 762.20,219.53 763.20,219.62 764.20,219.72 765.20,219.81 766.20,219.90 767.20,220.00 768.20,220.09 769.20,220.18 770.20,220.27 771.20,220.37 772.20,220.46 773.20,220.55 774.20,220.64 775.20,220.73 776.20,220.82 777.20,220.91 778.20,221.00 779.20,221.08 780.20,221.17 781.20,221.26 782.20,221.35 783.20,221.43 784.20,221.52 785.20,221.61 786.20,221.69 787.20,221.78 788.20,221.86 789.20,221.95 790.20,222.03 791.20,222.11 792.20,222.20 793.20,222.28 794.20,222.36 795.20,222.44 796.20,222.52 797.20,222.60 798.20,222.68 799.20,222.76 800.20,222.84 801.20,222.92 802.20,223.00 803.20,223.07 804.20,223.15 805.20,223.23 806.20,223.30 807.20,223.38 808.20,223.45 809.20,223.53 810.20,223.60 811.20,223.68 812.20,223.75 813.20,223.82 814.20,223.89 815.20,223.96 816.20,224.03 817.20,224.10 818.20,224.17 819.20,224.24 820.20,224.31 821.20,224.38 822.20,224.44 823.20,224.51 824.20,224.57 825.20,224.64 826.20,224.70 827.20,224.77 828.20,224.83 829.20,224.89 830.20,224.95 831.20,225.02 832.20,225.08 833.20,225.14 834.20,225.19 835.20,225.25 836.20,225.31 837.20,225.37 838.20,225.42 839.20,225.48 840.20,225.54 841.20,225.59 842.20,225.64 843.20,225.70 844.20,225.75 845.20,225.80 846.20,225.85 847.20,225.90 848.20,225.95 849.20,226.00 850.20,226.05 851.20,226.10 852.20,226.15 853.20,226.20 854.20,226.24 855.20,226.29 856.20,226.33 857.20,226.38 858.20,226.43 859.20,226.47 860.20,226.51 861.20,226.56 862.20,226.60 863.20,226.65 864.20,226.69 865.20,226.73 866.20,226.77 867.20,226.82 868.20,226.86 869.20,226.90 870.20,226.94 871.20,226.98 872.20,227.03 873.20,227.07 874.20,227.11 875.20,227.15 876.20,227.19 877.20,227.23 878.20,227.27 879.20,227.31 880.20,227.35 881.20,227.39 882.20,227.43 883.20,227.47 884.20,227.51 885.20,227.55 886.20,227.59 887.20,227.63 888.20,227.68 889.20,227.72 890.20,227.76 891.20,227.80 892.20,227.84 893.20,227.88 894.20,227.92 895.20,227.96 896.20,228.01 897.20,228.05 898.20,228.09 899.20,228.13 900.20,228.18 901.20,228.22 902.20,228.26 903.20,228.31 904.20,228.35 905.20,228.40 906.20,228.44 907.20,228.49 908.20,228.54 909.20,228.58 910.20,228.63 911.20,228.68 912.20,228.72 913.20,228.77 914.20,228.82 915.20,228.87 916.20,228.92 917.20,228.97 918.20,229.02 919.20,229.08 920.20,229.13 921.20,229.18 922.20,229.24 923.20,229.29 924.20,229.35 925.20,229.40 926.20,229.46 927.20,229.52 928.20,229.57 929.20,229.63 930.20,229.69 931.20,229.75 932.20,229.81 933.20,229.88 934.20,229.94 935.20,230.00 936.20,230.07 937.20,230.13 938.20,230.20 939.20,230.27 940.20,230.34 941.20,230.41 942.20,230.48 943.20,230.55 944.20,230.62 945.20,230.69" stroke="#000000"/>
<path d="M123.20,142.86 124.20,142.89 125.20,142.91 126.20,142.93 127.20,142.94 128.20,142.95 129.20,142.95 130.20,142.95 131.20,142.95 132.20,142.95 133.20,142.93 134.20,142.92 135.20,142.90 136.20,142.89 137.20,142.86 138.20,142.84 139.20,142.81 140.20,142.78 141.20,142.75 142.20,142.72 143.20,142.68 144.20,142.64 145.20,142.60 146.20,142.57 147.20,142.52 148.20,142.48 149.20,142.44 150.20,142.40 151.20,142.35 152.20,142.31 153.20,142.26 154.20,142.22 155.20,142.17 156.20,142.12 157.20,142.07 158.20,142.02 159.20,141.97 160.20,141.92 161.20,141.87 162.20,141.81 163.20,141.75 164.20,141.70 165.20,141.63 166.20,141.57 167.20,141.51 168.20,141.44 169.20,141.37 170.20,141.30 171.20,141.23 172.20,141.15 173.20,141.07 174.20,140.99 175.20,140.91 176.20,140.82 177.20,140.73 178.20,140.64 179.20,140.54 180.20,140.44 181.20,140.33 182.20,140.21 183.20,140.09 184.20,139.96 185.20,139.82 186.20,139.68 187.20,139.52 188.20,139.36 189.20,139.18 190.20,139.00 191.20,138.80 192.20,138.59 193.20,138.37 194.20,138.14 195.20,137.89 196.20,137.63 197.20,137.35 198.20,137.07 199.20,136.77 200.20,136.46 201.20,136.14 202.20,135.82 203.20,135.48 204.20,135.14 205.20,134.79 206.20,134.44 207.20,134.08 208.20,133.72 209.20,133.36 210.20,132.99 211.20,132.63 212.20,132.26 213.20,131.89 214.20,131.52 215.20,131.16 216.20,130.80 217.20,130.44 218.20,130.09 219.20,129.74 220.20,129.39 221.20,129.05 222.20,128.71 223.20,128.37 224.20,128.04 225.20,127.72 226.20,127.39 227.20,127.08 228.20,126.77 229.20,126.47 230.20,126.17 231.20,125.87 232.20,125.59 233.20,125.31 234.20,125.04 235.20,124.77 236.20,124.51 237.20,124.26 238.20,124.02 239.20,123.78 240.20,123.55 241.20,123.33 242.20,123.12 243.20,122.92 244.20,122.73 245.20,122.54 246.20,122.37 247.20,122.20 248.20,122.04 249.20,121.90 250.20,121.76 251.20,121.64 252.20,121.53 253.20,121.42 254.20,121.33 255.20,121.25 256.20,121.18 257.20,121.13 258.20,121.08 259.20,121.05 260.20,121.04 261.20,121.03 262.20,121.04 263.20,121.06 264.20,121.09 265.20,121.14 266.20,121.21 267.20,121.28 268.20,121.38 269.20,121.49 270.20,121.61 271.20,121.75 272.20,121.91 273.20,122.09 274.20,122.28 275.20,122.50 276.20,122.73 277.20,122.98 278.20,123.26 279.20,123.55 280.20,123.86 281.20,124.20 282.20,124.56 283.20,124.94 284.20,125.34 285.20,125.77 286.20,126.22 287.20,126.70 288.20,127.19 289.20,127.71 290.20,128.25 291.20,128.81 292.20,129.39 293.20,129.99 294.20,130.61 295.20,131.25 296.20,131.90 297.20,132.57 298.20,133.26 299.20,133.96 300.20,134.68 301.20,135.41 302.20,136.15 303.20,136.91 304.20,137.68 305.20,138.46 306.20,139.25 307.20,140.05 308.20,140.87 309.20,141.70 310.20,142.54 311.20,143.40 312.20,144.28 313.20,145.18 314.20,146.09 315.20,147.03 316.20,147.98 317.20,148.95 318.20,149.95 319.20,150.97 320.20,152.02 321.20,153.09 322.20,154.18 323.20,155.31 324.20,156.46 325.20,157.64 326.20,158.85 327.20,160.08 328.20,161.34 329.20,162.62 330.20,163.92 331.20,165.23 332.20,166.56 333.20,167.90 334.20,169.24 335.20,170.60 336.20,171.95 337.20,173.30 338.20,174.66 339.20,176.00 340.20,177.34 341.20,178.67 342.20,179.98 343.20,181.28 344.20,182.56 345.20,183.82 346.20,185.06 347.20,186.27 348.20,187.47 349.20,188.64 350.20,189.79 351.20,190.93 352.20,192.04 353.20,193.14 354.20,194.23 355.20,195.30 356.20,196.35 357.20,197.39 358.20,198.42 359.20,199.44 360.20,200.44 361.20,201.44 362.20,202.42 363.20,203.40 364.20,204.37 365.20,205.34 366.20,206.30 367.20,207.25 368.20,208.20 369.20,209.14 370.20,210.09 371.20,211.03 372.20,211.97 373.20,212.91 374.20,213.85 375.20,214.78 376.20,215.71 377.20,216.64 378.20,217.57 379.20,218.49 380.20,219.42 381.20,220.33 382.20,221.25 383.20,222.16 384.20,223.07 385.20,223.98 386.20,224.88 387.20,225.77 388.20,226.67 389.20,227.56 390.20,228.44 391.20,229.32 392.20,230.20 393.20,231.07 394.20,231.94 395.20,232.80 396.20,233.65 397.20,234.50 398.20,235.35 399.20,236.19 400.20,237.02 401.20,237.85 402.20,238.68 403.20,239.49 404.20,240.30 405.20,241.11 406.20,241.91 407.20,242.70 408.20,243.49 409.20,244.27 410.20,245.04 411.20,245.81 412.20,246.58 413.20,247.33 414.20,248.09 415.20,248.83 416.20,249.57 417.20,250.30 418.20,251.03 419.20,251.75 420.20,252.47 421.20,253.17 422.20,253.88 423.20,254.57 424.20,255.26 425.20,255.95 426.20,256.63 427.20,257.30 428.20,257.96 429.20,258.62 430.20,259.28 431.20,259.92 432.20,260.56 433.20,261.20 434.20,261.83 435.20,262.45 436.20,263.06 437.20,263.67 438.20,264.28 439.20,264.87 440.20,265.46 441.20,266.04 442.20,266.62 443.20,267.19 444.20,267.76 445.20,268.32 446.20,268.87 447.20,269.42 448.20,269.96 449.20,270.49 450.20,271.02 451.20,271.55 452.20,272.07 453.20,272.58 454.20,273.09 455.20,273.60 456.20,274.09 457.20,274.59 458.20,275.08 459.20,275.56 460.20,276.04 461.20,276.52 462.20,276.99 463.20,277.45 464.20,277.92 465.20,278.37 466.20,278.83 467.20,279.28 468.20,279.72 469.20,280.16 470.20,280.60 471.20,281.04 472.20,281.47 473.20,281.90 474.20,282.32 475.20,282.74 476.20,283.16 477.20,283.58 478.20,283.99 479.20,284.40 480.20,284.80 481.20,285.21 482.20,285.61 483.20,286.01 484.20,286.40 485.20,286.80 486.20,287.19 487.20,287.58 488.20,287.96 489.20,288.35 490.20,288.73 491.20,289.11 492.20,289.49 493.20,289.87 494.20,290.25 495.20,290.62 496.20,291.00 497.20,291.37 498.20,291.74 499.20,292.10 500.20,292.47 501.20,292.83 502.20,293.19 503.20,293.55 504.20,293.91 505.20,294.26 506.20,294.62 507.20,294.97 508.20,295.32 509.20,295.67 510.20,296.01 511.20,296.36 512.20,296.70 513.20,297.04 514.20,297.38 515.20,297.72 516.20,298.05 517.20,298.38 518.20,298.71 519.20,299.04 520.20,299.37 521.20,299.69 522.20,300.01 523.20,300.34 524.20,300.65 525.20,300.97 526.20,301.28 527.20,301.60 528.20,301.91 529.20,302.21 530.20,302.52 531.20,302.83 532.20,303.13 533.20,303.43 534.20,303.72 535.20,304.02 536.20,304.31 537.20,304.61 538.20,304.89 539.20,305.18 540.20,305.47 541.20,305.75 542.20,306.03 543.20,306.31 544.20,306.59 545.20,306.86 546.20,307.13 547.20,307.40 548.20,307.67 549.20,307.93 550.20,308.20 551.20,308.46 552.20,308.72 553.20,308.97 554.20,309.23 555.20,309.48 556.20,309.73 557.20,309.98 558.20,310.22 559.20,310.47 560.20,310.71 561.20,310.95 562.20,311.18 563.20,311.42 564.20,311.65 565.20,311.88 566.20,312.11 567.20,312.33 568.20,312.56 569.20,312.78 570.20,313.00 571.20,313.21 572.20,313.43 573.20,313.64 574.20,313.85 575.20,314.06 576.20,314.27 577.20,314.47 578.20,314.68 579.20,314.88 580.20,315.08 581.20,315.27 582.20,315.47 583.20,315.66 584.20,315.86 585.20,316.05 586.20,316.23 587.20,316.42 588.20,316.61 589.20,316.79 590.20,316.97 591.20,317.15 592.20,317.33 593.20,317.51 594.20,317.68 595.20,317.85 596.20,318.03 597.20,318.20 598.20,318.37 599.20,318.53 600.20,318.70 601.20,318.86 602.20,319.03 603.20,319.19 604.20,319.35 605.20,319.51 606.20,319.66 607.20,319.82 608.20,319.97 609.20,320.13 610.20,320.28 611.20,320.43 612.20,320.58 613.20,320.73 614.20,320.87 615.20,321.02 616.20,321.16 617.20,321.31 618.20,321.45 619.20,321.59 620.20,321.73 621.20,321.87 622.20,322.01 623.20,322.15 624.20,322.28 625.20,322.42 626.20,322.55 627.20,322.68 628.20,322.82 629.20,322.95 630.20,323.08 631.20,323.21 632.20,323.34 633.20,323.47 634.20,323.59 635.20,323.72 636.20,323.84 637.20,323.97 638.20,324.09 639.20,324.22 640.20,324.34 641.20,324.46 642.20,324.58 643.20,324.70 644.20,324.82 645.20,324.94 646.20,325.06 647.20,325.18 648.20,325.30 649.20,325.42 650.20,325.53 651.20,325.65 652.20,325.77 653.20,325.88 654.20,326.00 655.20,326.11 656.20,326.23 657.20,326.34 658.20,326.45 659.20,326.57 660.20,326.68 661.20,326.79 662.20,326.90 663.20,327.01 664.20,327.12 665.20,327.23 666.20,327.34 667.20,327.45 668.20,327.56 669.20,327.67 670.20,327.78 671.20,327.88 672.20,327.99 673.20,328.10 674.20,328.20 675.20,328.31 676.20,328.41 677.20,328.52 678.20,328.62 679.20,328.72 680.20,328.83 681.20,328.93 682.20,329.03 683.20,329.13 684.20,329.24 685.20,329.34 686.20,329.44 687.20,329.54 688.20,329.64 689.20,329.73 690.20,329.83 691.20,329.93 692.20,330.03 693.20,330.13 694.20,330.22 695.20,330.32 696.20,330.41 697.20,330.51 698.20,330.60 699.20,330.70 700.20,330.79 701.20,330.89 702.20,330.98 703.20,331.07 704.20,331.16 705.20,331.26 706.20,331.35 707.20,331.44 708.20,331.53 709.20,331.62 710.20,331.71 711.20,331.80 712.20,331.88 713.20,331.97 714.20,332.06 715.20,332.15 716.20,332.23 717.20,332.32 718.20,332.40 719.20,332.49 720.20,332.57 721.20,332.66 722.20,332.74 723.20,332.83 724.20,332.91 725.20,332.99 726.20,333.07 727.20,333.15 728.20,333.24 729.20,333.32 730.20,333.40 731.20,333.48 732.20,333.56 733.20,333.63 734.20,333.71 735.20,333.79 736.20,333.87 737.20,333.95 738.20,334.02 739.20,334.10 740.20,334.17 741.20,334.25 742.20,334.32 743.20,334.40 744.20,334.47 745.20,334.55 746.20,334.62 747.20,334.69 748.20,334.76 749.20,334.83 750.20,334.91 751.20,334.98 752.20,335.05 753.20,335.12 754.20,335.19 755.20,335.25 756.20,335.32 757.20,335.39 758.20,335.46 759.20,335.53 760.20,335.59 761.20,335.66 762.20,335.72 763.20,335.79 764.20,335.85 765.20,335.92 766.20,335.98 767.20,336.05 768.20,336.11 769.20,336.17 770.20,336.23 771.20,336.30 772.20,336.36 773.20,336.42 774.20,336.48 775.20,336.54 776.20,336.60 777.20,336.66 778.20,336.72 779.20,336.77 780.20,336.83 781.20,336.89 782.20,336.95 783.20,337.00 784.20,337.06 785.20,337.11 786.20,337.17 787.20,337.22 788.20,337.28 789.20,337.33 790.20,337.38 791.20,337.44 792.20,337.49 793.20,337.54 794.20,337.59 795.20,337.65 796.20,337.70 797.20,337.75 798.20,337.80 799.20,337.85 800.20,337.90 801.20,337.95 802.20,338.00 803.20,338.04 804.20,338.09 805.20,338.14 806.20,338.19 807.20,338.23 808.20,338.28 809.20,338.33 810.20,338.37 811.20,338.42 812.20,338.47 813.20,338.51 814.20,338.56 815.20,338.60 816.20,338.64 817.20,338.69 818.20,338.73 819.20,338.78 820.20,338.82 821.20,338.86 822.20,338.90 823.20,338.95 824.20,338.99 825.20,339.03 826.20,339.07 827.20,339.11 828.20,339.15 829.20,339.19 830.20,339.23 831.20,339.27 832.20,339.31 833.20,339.35 834.20,339.39 835.20,339.43 836.20,339.47 837.20,339.51 838.20,339.55 839.20,339.59 840.20,339.63 841.20,339.66 842.20,339.70 843.20,339.74 844.20,339.78 845.20,339.81 846.20,339.85 847.20,339.89 848.20,339.92 849.20,339.96 850.20,340.00 851.20,340.03 852.20,340.07 853.20,340.11 854.20,340.14 855.20,340.18 856.20,340.21 857.20,340.25 858.20,340.28 859.20,340.32 860.20,340.35 861.20,340.39 862.20,340.42 863.20,340.46 864.20,340.49 865.20,340.53 866.20,340.56 867.20,340.59 868.20,340.63 869.20,340.66 870.20,340.70 871.20,340.73 872.20,340.76 873.20,340.80 874.20,340.83 875.20,340.86 876.20,340.90 877.20,340.93 878.20,340.96 879.20,341.00 880.20,341.03 881.20,341.06 882.20,341.10 883.20,341.13 884.20,341.16 885.20,341.20 886.20,341.23 887.20,341.26 888.20,341.30 889.20,341.33 890.20,341.36 891.20,341.40 892.20,341.43 893.20,341.46 894.20,341.50 895.20,341.53 896.20,341.56 897.20,341.60 898.20,341.63 899.20,341.66 900.20,341.70 901.20,341.73 902.20,341.76 903.20,341.80 904.20,341.83 905.20,341.86 906.20,341.90 907.20,341.93 908.20,341.96 909.20,342.00 910.20,342.03 911.20,342.07 912.20,342.10 913.20,342.13 914.20,342.17 915.20,342.20 916.20,342.24 917.20,342.27 918.20,342.31 919.20,342.34 920.20,342.38 921.20,342.41 922.20,342.45 923.20,342.48 924.20,342.52 925.20,342.55 926.20,342.59 927.20,342.62 928.20,342.66 929.20,342.70 930.20,342.73 931.20,342.77 932.20,342.81 933.20,342.84 934.20,342.88 935.20,342.92 936.20,342.95 937.20,342.99 938.20,343.03 939.20,343.07 940.20,343.11 941.20,343.14 942.20,343.18 943.20,343.22 944.20,343.26 945.20,343.30" stroke="#00aa00"/>
<path d="M123.20,143.03 124.20,142.93 125.20,142.86 126.20,142.80 127.20,142.75 128.20,142.73 129.20,142.71 130.20,142.72 131.20,142.73 132.20,142.76 133.20,142.79 134.20,142.84 135.20,142.90 136.20,142.96 137.20,143.03 138.20,143.11 139.20,143.19 140.20,143.28 141.20,143.37 142.20,143.47 143.20,143.56 144.20,143.66 145.20,143.75 146.20,143.85 147.20,143.94 148.20,144.03 149.20,144.11 150.20,144.19 151.20,144.26 152.20,144.33 153.20,144.40 154.20,144.46 155.20,144.52 156.20,144.58 157.20,144.63 158.20,144.69 159.20,144.75 160.20,144.82 161.20,144.89 162.20,144.96 163.20,145.03 164.20,145.12 165.20,145.21 166.20,145.31 167.20,145.42 168.20,145.53 169.20,145.66 170.20,145.80 171.20,145.96 172.20,146.12 173.20,146.30 174.20,146.49 175.20,146.70 176.20,146.91 177.20,147.13 178.20,147.37 179.20,147.62 180.20,147.87 181.20,148.14 182.20,148.42 183.20,148.70 184.20,149.00 185.20,149.30 186.20,149.62 187.20,149.94 188.20,150.27 189.20,150.61 190.20,150.96 191.20,151.31 192.20,151.67 193.20,152.05 194.20,152.43 195.20,152.82 196.20,153.22 197.20,153.63 198.20,154.05 199.20,154.49 200.20,154.93 201.20,155.39 202.20,155.86 203.20,156.35 204.20,156.85 205.20,157.36 206.20,157.89 207.20,158.43 208.20,158.99 209.20,159.56 210.20,160.15 211.20,160.76 212.20,161.38 213.20,162.02 214.20,162.67 215.20,163.34 216.20,164.01 217.20,164.69 218.20,165.38 219.20,166.08 220.20,166.79 221.20,167.49 222.20,168.21 223.20,168.92 224.20,169.64 225.20,170.35 226.20,171.06 227.20,171.77 228.20,172.48 229.20,173.18 230.20,173.88 231.20,174.57 232.20,175.25 233.20,175.92 234.20,176.59 235.20,177.25 236.20,177.89 237.20,178.54 238.20,179.17 239.20,179.80 240.20,180.41 241.20,181.02 242.20,181.62 243.20,182.21 244.20,182.79 245.20,183.36 246.20,183.92 247.20,184.48 248.20,185.02 249.20,185.55 250.20,186.08 251.20,186.59 252.20,187.09 253.20,187.58 254.20,188.06 255.20,188.53 256.20,188.99 257.20,189.43 258.20,189.86 259.20,190.28 260.20,190.68 261.20,191.06 262.20,191.44 263.20,191.79 264.20,192.13 265.20,192.46 266.20,192.76 267.20,193.05 268.20,193.33 269.20,193.58 270.20,193.81 271.20,194.03 272.20,194.23 273.20,194.41 274.20,194.57 275.20,194.72 276.20,194.85 277.20,194.97 278.20,195.07 279.20,195.16 280.20,195.24 281.20,195.30 282.20,195.35 283.20,195.40 284.20,195.43 285.20,195.45 286.20,195.46 287.20,195.47 288.20,195.47 289.20,195.46 290.20,195.44 291.20,195.42 292.20,195.40 293.20,195.37 294.20,195.33 295.20,195.30 296.20,195.26 297.20,195.22 298.20,195.18 299.20,195.14 300.20,195.09 301.20,195.05 302.20,195.00 303.20,194.95 304.20,194.91 305.20,194.86 306.20,194.81 307.20,194.76 308.20,194.72 309.20,194.67 310.20,194.63 311.20,194.58 312.20,194.54 313.20,194.50 314.20,194.46 315.20,194.42 316.20,194.38 317.20,194.35 318.20,194.32 319.20,194.29 320.20,194.26 321.20,194.24 322.20,194.22 323.20,194.21 324.20,194.20 325.20,194.19 326.20,194.18 327.20,194.18 328.20,194.18 329.20,194.19 330.20,194.20 331.20,194.22 332.20,194.24 333.20,194.26 334.20,194.29 335.20,194.32 336.20,194.36 337.20,194.40 338.20,194.44 339.20,194.50 340.20,194.55 341.20,194.61 342.20,194.68 343.20,194.75 344.20,194.83 345.20,194.91 346.20,195.00 347.20,195.10 348.20,195.19 349.20,195.30 350.20,195.41 351.20,195.52 352.20,195.64 353.20,195.76 354.20,195.89 355.20,196.02 356.20,196.16 357.20,196.30 358.20,196.44 359.20,196.59 360.20,196.74 361.20,196.89 362.20,197.05 363.20,197.21 364.20,197.37 365.20,197.54 366.20,197.70 367.20,197.88 368.20,198.05 369.20,198.22 370.20,198.40 371.20,198.58 372.20,198.76 373.20,198.94 374.20,199.13 375.20,199.31 376.20,199.50 377.20,199.69 378.20,199.88 379.20,200.08 380.20,200.27 381.20,200.47 382.20,200.67 383.20,200.87 384.20,201.07 385.20,201.28 386.20,201.48 387.20,201.69 388.20,201.90 389.20,202.11 390.20,202.32 391.20,202.53 392.20,202.75 393.20,202.96 394.20,203.18 395.20,203.40 396.20,203.62 397.20,203.84 398.20,204.07 399.20,204.29 400.20,204.52 401.20,204.75 402.20,204.98 403.20,205.21 404.20,205.44 405.20,205.67 406.20,205.91 407.20,206.14 408.20,206.38 409.20,206.62 410.20,206.85 411.20,207.09 412.20,207.33 413.20,207.57 414.20,207.81 415.20,208.06 416.20,208.30 417.20,208.54 418.20,208.78 419.20,209.03 420.20,209.27 421.20,209.51 422.20,209.76 423.20,210.00 424.20,210.24 425.20,210.49 426.20,210.73 427.20,210.97 428.20,211.22 429.20,211.46 430.20,211.70 431.20,211.95 432.20,212.19 433.20,212.43 434.20,212.67 435.20,212.91 436.20,213.15 437.20,213.39 438.20,213.63 439.20,213.86 440.20,214.10 441.20,214.33 442.20,214.57 443.20,214.80 444.20,215.03 445.20,215.26 446.20,215.49 447.20,215.72 448.20,215.95 449.20,216.17 450.20,216.40 451.20,216.62 452.20,216.84 453.20,217.06 454.20,217.28 455.20,217.49 456.20,217.71 457.20,217.92 458.20,218.13 459.20,218.34 460.20,218.55 461.20,218.76 462.20,218.96 463.20,219.17 464.20,219.37 465.20,219.58 466.20,219.78 467.20,219.98 468.20,220.17 469.20,220.37 470.20,220.57 471.20,220.76 472.20,220.95 473.20,221.15 474.20,221.34 475.20,221.53 476.20,221.72 477.20,221.90 478.20,222.09 479.20,222.28 480.20,222.46 481.20,222.64 482.20,222.83 483.20,223.01 484.20,223.19 485.20,223.37 486.20,223.55 487.20,223.72 488.20,223.90 489.20,224.08 490.20,224.25 491.20,224.42 492.20,224.60 493.20,224.77 494.20,224.94 495.20,225.11 496.20,225.28 497.20,225.45 498.20,225.62 499.20,225.79 500.20,225.95 501.20,226.12 502.20,226.28 503.20,226.45 504.20,226.61 505.20,226.78 506.20,226.94 507.20,227.10 508.20,227.26 509.20,227.42 510.20,227.58 511.20,227.74 512.20,227.90 513.20,228.06 514.20,228.22 515.20,228.38 516.20,228.54 517.20,228.69 518.20,228.85 519.20,229.01 520.20,229.16 521.20,229.32 522.20,229.47 523.20,229.63 524.20,229.78 525.20,229.94 526.20,230.09 527.20,230.24 528.20,230.40 529.20,230.55 530.20,230.70 531.20,230.85 532.20,231.00 533.20,231.16 534.20,231.31 535.20,231.46 536.20,231.61 537.20,231.76 538.20,231.90 539.20,232.05 540.20,232.20 541.20,232.35 542.20,232.50 543.20,232.64 544.20,232.79 545.20,232.94 546.20,233.08 547.20,233.23 548.20,233.37 549.20,233.52 550.20,233.66 551.20,233.80 552.20,233.95 553.20,234.09 554.20,234.23 555.20,234.37 556.20,234.51 557.20,234.66 558.20,234.80 559.20,234.94 560.20,235.07 561.20,235.21 562.20,235.35 563.20,235.49 564.20,235.63 565.20,235.76 566.20,235.90 567.20,236.04 568.20,236.17 569.20,236.31 570.20,236.44 571.20,236.58 572.20,236.71 573.20,236.84 574.20,236.98 575.20,237.11 576.20,237.24 577.20,237.37 578.20,237.50 579.20,237.63 580.20,237.76 581.20,237.89 582.20,238.02 583.20,238.15 584.20,238.28 585.20,238.40 586.20,238.53 587.20,238.66 588.20,238.78 589.20,238.91 590.20,239.03 591.20,239.16 592.20,239.28 593.20,239.40 594.20,239.53 595.20,239.65 596.20,239.77 597.20,239.89 598.20,240.01 599.20,240.13 600.20,240.25 601.20,240.37 602.20,240.49 603.20,240.60 604.20,240.72 605.20,240.84 606.20,240.95 607.20,241.07 608.20,241.18 609.20,241.30 610.20,241.41 611.20,241.52 612.20,241.63 613.20,241.75 614.20,241.86 615.20,241.97 616.20,242.08 617.20,242.19 618.20,242.30 619.20,242.40 620.20,242.51 621.20,242.62 622.20,242.73 623.20,242.83 624.20,242.94 625.20,243.04 626.20,243.14 627.20,243.25 628.20,243.35 629.20,243.45 630.20,243.56 631.20,243.66 632.20,243.76 633.20,243.86 634.20,243.96 635.20,244.05 636.20,244.15 637.20,244.25 638.20,244.35 639.20,244.44 640.20,244.54 641.20,244.64 642.20,244.73 643.20,244.83 644.20,244.92 645.20,245.01 646.20,245.11 647.20,245.20 648.20,245.29 649.20,245.38 650.20,245.47 651.20,245.56 652.20,245.65 653.20,245.74 654.20,245.83 655.20,245.92 656.20,246.01 657.20,246.09 658.20,246.18 659.20,246.27 660.20,246.35 661.20,246.44 662.20,246.52 663.20,246.61 664.20,246.69 665.20,246.77 666.20,246.86 667.20,246.94 668.20,247.02 669.20,247.10 670.20,247.18 671.20,247.26 672.20,247.34 673.20,247.42 674.20,247.50 675.20,247.58 676.20,247.66 677.20,247.74 678.20,247.81 679.20,247.89 680.20,247.97 681.20,248.04 682.20,248.12 683.20,248.19 684.20,248.27 685.20,248.34 686.20,248.42 687.20,248.49 688.20,248.56 689.20,248.63 690.20,248.71 691.20,248.78 692.20,248.85 693.20,248.92 694.20,248.99 695.20,249.06 696.20,249.13 697.20,249.20 698.20,249.27 699.20,249.34 700.20,249.41 701.20,249.47 702.20,249.54 703.20,249.61 704.20,249.68 705.20,249.74 706.20,249.81 707.20,249.87 708.20,249.94 709.20,250.00 710.20,250.07 711.20,250.13 712.20,250.20 713.20,250.26 714.20,250.32 715.20,250.39 716.20,250.45 717.20,250.51 718.20,250.57 719.20,250.63 720.20,250.70 721.20,250.76 722.20,250.82 723.20,250.88 724.20,250.94 725.20,251.00 726.20,251.06 727.20,251.11 728.20,251.17 729.20,251.23 730.20,251.29 731.20,251.35 732.20,251.41 733.20,251.46 734.20,251.52 735.20,251.58 736.20,251.63 737.20,251.69 738.20,251.74 739.20,251.80 740.20,251.86 741.20,251.91 742.20,251.96 743.20,252.02 744.20,252.07 745.20,252.13 746.20,252.18 747.20,252.23 748.20,252.29 749.20,252.34 750.20,252.39 751.20,252.45 752.20,252.50 753.20,252.55 754.20,252.60 755.20,252.65 756.20,252.70 757.20,252.76 758.20,252.81 759.20,252.86 760.20,252.91 761.20,252.96 762.20,253.01 763.20,253.06 764.20,253.11 765.20,253.16 766.20,253.21 767.20,253.26 768.20,253.30 769.20,253.35 770.20,253.40 771.20,253.45 772.20,253.50 773.20,253.54 774.20,253.59 775.20,253.64 776.20,253.69 777.20,253.73 778.20,253.78 779.20,253.83 780.20,253.87 781.20,253.92 782.20,253.97 783.20,254.01 784.20,254.06 785.20,254.10 786.20,254.15 787.20,254.19 788.20,254.24 789.20,254.28 790.20,254.33 791.20,254.37 792.20,254.41 793.20,254.46 794.20,254.50 795.20,254.54 796.20,254.59 797.20,254.63 798.20,254.67 799.20,254.72 800.20,254.76 801.20,254.80 802.20,254.84 803.20,254.88 804.20,254.93 805.20,254.97 806.20,255.01 807.20,255.05 808.20,255.09 809.20,255.13 810.20,255.17 811.20,255.21 812.20,255.25 813.20,255.29 814.20,255.33 815.20,255.37 816.20,255.41 817.20,255.45 818.20,255.49 819.20,255.53 820.20,255.57 821.20,255.61 822.20,255.65 823.20,255.68 824.20,255.72 825.20,255.76 826.20,255.80 827.20,255.84 828.20,255.87 829.20,255.91 830.20,255.95 831.20,255.99 832.20,256.02 833.20,256.06 834.20,256.10 835.20,256.13 836.20,256.17 837.20,256.20 838.20,256.24 839.20,256.27 840.20,256.31 841.20,256.35 842.20,256.38 843.20,256.42 844.20,256.45 845.20,256.49 846.20,256.52 847.20,256.55 848.20,256.59 849.20,256.62 850.20,256.66 851.20,256.69 852.20,256.72 853.20,256.76 854.20,256.79 855.20,256.82 856.20,256.86 857.20,256.89 858.20,256.92 859.20,256.95 860.20,256.99 861.20,257.02 862.20,257.05 863.20,257.08 864.20,257.12 865.20,257.15 866.20,257.18 867.20,257.21 868.20,257.24 869.20,257.27 870.20,257.30 871.20,257.33 872.20,257.36 873.20,257.39 874.20,257.43 875.20,257.46 876.20,257.49 877.20,257.52 878.20,257.55 879.20,257.57 880.20,257.60 881.20,257.63 882.20,257.66 883.20,257.69 884.20,257.72 885.20,257.75 886.20,257.78 887.20,257.81 888.20,257.84 889.20,257.86 890.20,257.89 891.20,257.92 892.20,257.95 893.20,257.98 894.20,258.00 895.20,258.03 896.20,258.06 897.20,258.09 898.20,258.11 899.20,258.14 900.20,258.17 901.20,258.19 902.20,258.22 903.20,258.25 904.20,258.27 905.20,258.30 906.20,258.33 907.20,258.35 908.20,258.38 909.20,258.40 910.20,258.43 911.20,258.46 912.20,258.48 913.20,258.51 914.20,258.53 915.20,258.56 916.20,258.58 917.20,258.61 918.20,258.63 919.20,258.66 920.20,258.68 921.20,258.71 922.20,258.73 923.20,258.75 924.20,258.78 925.20,258.80 926.20,258.83 927.20,258.85 928.20,258.87 929.20,258.90 930.20,258.92 931.20,258.94 932.20,258.97 933.20,258.99 934.20,259.01 935.20,259.04 936.20,259.06 937.20,259.08 938.20,259.11 939.20,259.13 940.20,259.15 941.20,259.17 942.20,259.20 943.20,259.22 944.20,259.24 945.20,259.26" stroke="#ff8000"/>
<path d="M123.20,142.93 124.20,142.91 125.20,142.89 126.20,142.87 127.20,142.86 128.20,142.85 129.20,142.85 130.20,142.85 131.20,142.85 132.20,142.86 133.20,142.87 134.20,142.89 135.20,142.91 136.20,142.93 137.20,142.95 138.20,142.98 139.20,143.01 140.20,143.04 141.20,143.08 142.20,143.11 143.20,143.15 144.20,143.19 145.20,143.23 146.20,143.27 147.20,143.31 148.20,143.36 149.20,143.40 150.20,143.45 151.20,143.49 152.20,143.53 153.20,143.58 154.20,143.62 155.20,143.67 156.20,143.71 157.20,143.75 158.20,143.79 159.20,143.83 160.20,143.87 161.20,143.91 162.20,143.94 163.20,143.97 164.20,144.01 165.20,144.04 166.20,144.07 167.20,144.10 168.20,144.13 169.20,144.15 170.20,144.18 171.20,144.21 172.20,144.23 173.20,144.26 174.20,144.28 175.20,144.31 176.20,144.33 177.20,144.36 178.20,144.38 179.20,144.41 180.20,144.43 181.20,144.46 182.20,144.49 183.20,144.52 184.20,144.55 185.20,144.57 186.20,144.61 187.20,144.64 188.20,144.67 189.20,144.71 190.20,144.74 191.20,144.78 192.20,144.82 193.20,144.86 194.20,144.90 195.20,144.95 196.20,145.00 197.20,145.05 198.20,145.10 199.20,145.15 200.20,145.21 201.20,145.27 202.20,145.33 203.20,145.40 204.20,145.47 205.20,145.54 206.20,145.61 207.20,145.69 208.20,145.77 209.20,145.85 210.20,145.94 211.20,146.03 212.20,146.12 213.20,146.22 214.20,146.32 215.20,146.42 216.20,146.52 217.20,146.63 218.20,146.75 219.20,146.87 220.20,146.99 221.20,147.11 222.20,147.24 223.20,147.37 224.20,147.51 225.20,147.65 226.20,147.79 227.20,147.94 228.20,148.09 229.20,148.25 230.20,148.41 231.20,148.57 232.20,148.74 233.20,148.91 234.20,149.09 235.20,149.27 236.20,149.46 237.20,149.65 238.20,149.85 239.20,150.05 240.20,150.27 241.20,150.49 242.20,150.71 243.20,150.95 244.20,151.20 245.20,151.46 246.20,151.73 247.20,152.01 248.20,152.30 249.20,152.61 250.20,152.93 251.20,153.26 252.20,153.61 253.20,153.98 254.20,154.36 255.20,154.76 256.20,155.17 257.20,155.61 258.20,156.06 259.20,156.53 260.20,157.03 261.20,157.54 262.20,158.07 263.20,158.62 264.20,159.19 265.20,159.76 266.20,160.35 267.20,160.95 268.20,161.56 269.20,162.17 270.20,162.79 271.20,163.40 272.20,164.02 273.20,164.64 274.20,165.26 275.20,165.87 276.20,166.47 277.20,167.06 278.20,167.65 279.20,168.22 280.20,168.78 281.20,169.32 282.20,169.85 283.20,170.37 284.20,170.88 285.20,171.38 286.20,171.88 287.20,172.37 288.20,172.85 289.20,173.34 290.20,173.82 291.20,174.31 292.20,174.80 293.20,175.29 294.20,175.79 295.20,176.30 296.20,176.82 297.20,177.35 298.20,177.90 299.20,178.46 300.20,179.03 301.20,179.63 302.20,180.24 303.20,180.86 304.20,181.50 305.20,182.15 306.20,182.81 307.20,183.48 308.20,184.16 309.20,184.84 310.20,185.53 311.20,186.23 312.20,186.92 313.20,187.62 314.20,188.31 315.20,189.00 316.20,189.69 317.20,190.38 318.20,191.06 319.20,191.72 320.20,192.39 321.20,193.04 322.20,193.68 323.20,194.31 324.20,194.93 325.20,195.54 326.20,196.14 327.20,196.74 328.20,197.32 329.20,197.90 330.20,198.47 331.20,199.03 332.20,199.59 333.20,200.14 334.20,200.68 335.20,201.22 336.20,201.75 337.20,202.28 338.20,202.80 339.20,203.31 340.20,203.82 341.20,204.33 342.20,204.83 343.20,205.33 344.20,205.83 345.20,206.32 346.20,206.81 347.20,207.30 348.20,207.78 349.20,208.26 350.20,208.74 351.20,209.21 352.20,209.68 353.20,210.15 354.20,210.62 355.20,211.07 356.20,211.53 357.20,211.98 358.20,212.43 359.20,212.87 360.20,213.31 361.20,213.74 362.20,214.17 363.20,214.59 364.20,215.01 365.20,215.42 366.20,215.83 367.20,216.23 368.20,216.63 369.20,217.02 370.20,217.40 371.20,217.78 372.20,218.16 373.20,218.52 374.20,218.89 375.20,219.24 376.20,219.59 377.20,219.94 378.20,220.28 379.20,220.62 380.20,220.95 381.20,221.27 382.20,221.59 383.20,221.91 384.20,222.22 385.20,222.53 386.20,222.83 387.20,223.13 388.20,223.42 389.20,223.71 390.20,224.00 391.20,224.28 392.20,224.56 393.20,224.84 394.20,225.11 395.20,225.38 396.20,225.64 397.20,225.90 398.20,226.16 399.20,226.42 400.20,226.67 401.20,226.92 402.20,227.17 403.20,227.41 404.20,227.65 405.20,227.89 406.20,228.13 407.20,228.36 408.20,228.59 409.20,228.82 410.20,229.05 411.20,229.27 412.20,229.49 413.20,229.71 414.20,229.92 415.20,230.13 416.20,230.34 417.20,230.55 418.20,230.76 419.20,230.96 420.20,231.16 421.20,231.36 422.20,231.55 423.20,231.75 424.20,231.94 425.20,232.13 426.20,232.31 427.20,232.50 428.20,232.68 429.20,232.86 430.20,233.04 431.20,233.21 432.20,233.39 433.20,233.56 434.20,233.73 435.20,233.89 436.20,234.06 437.20,234.22 438.20,234.38 439.20,234.54 440.20,234.70 441.20,234.85 442.20,235.01 443.20,235.16 444.20,235.31 445.20,235.45 446.20,235.60 447.20,235.74 448.20,235.89 449.20,236.03 450.20,236.17 451.20,236.30 452.20,236.44 453.20,236.57 454.20,236.70 455.20,236.84 456.20,236.96 457.20,237.09 458.20,237.22 459.20,237.34 460.20,237.46 461.20,237.58 462.20,237.70 463.20,237.82 464.20,237.94 465.20,238.05 466.20,238.17 467.20,238.28 468.20,238.39 469.20,238.50 470.20,238.61 471.20,238.71 472.20,238.82 473.20,238.92 474.20,239.02 475.20,239.13 476.20,239.23 477.20,239.32 478.20,239.42 479.20,239.52 480.20,239.61 481.20,239.71 482.20,239.80 483.20,239.89 484.20,239.98 485.20,240.07 486.20,240.16 487.20,240.24 488.20,240.33 489.20,240.41 490.20,240.50 491.20,240.58 492.20,240.66 493.20,240.74 494.20,240.82 495.20,240.90 496.20,240.97 497.20,241.05 498.20,241.13 499.20,241.20 500.20,241.27 501.20,241.35 502.20,241.42 503.20,241.49 504.20,241.56 505.20,241.63 506.20,241.70 507.20,241.77 508.20,241.83 509.20,241.90 510.20,241.96 511.20,242.03 512.20,242.09 513.20,242.16 514.20,242.22 515.20,242.28 516.20,242.34 517.20,242.40 518.20,242.46 519.20,242.52 520.20,242.58 521.20,242.64 522.20,242.70 523.20,242.75 524.20,242.81 525.20,242.87 526.20,242.92 527.20,242.98 528.20,243.03 529.20,243.08 530.20,243.14 531.20,243.19 532.20,243.24 533.20,243.29 534.20,243.34 535.20,243.40 536.20,243.45 537.20,243.50 538.20,243.54 539.20,243.59 540.20,243.64 541.20,243.69 542.20,243.74 543.20,243.78 544.20,243.83 545.20,243.87 546.20,243.92 547.20,243.96 548.20,244.01 549.20,244.05 550.20,244.09 551.20,244.14 552.20,244.18 553.20,244.22 554.20,244.26 555.20,244.30 556.20,244.35 557.20,244.39 558.20,244.42 559.20,244.46 560.20,244.50 561.20,244.54 562.20,244.58 563.20,244.62 564.20,244.65 565.20,244.69 566.20,244.73 567.20,244.76 568.20,244.80 569.20,244.83 570.20,244.87 571.20,244.90 572.20,244.94 573.20,244.97 574.20,245.00 575.20,245.04 576.20,245.07 577.20,245.10 578.20,245.13 579.20,245.16 580.20,245.19 581.20,245.22 582.20,245.25 583.20,245.28 584.20,245.31 585.20,245.34 586.20,245.37 587.20,245.40 588.20,245.43 589.20,245.46 590.20,245.48 591.20,245.51 592.20,245.54 593.20,245.57 594.20,245.59 595.20,245.62 596.20,245.64 597.20,245.67 598.20,245.69 599.20,245.72 600.20,245.74 601.20,245.77 602.20,245.79 603.20,245.81 604.20,245.84 605.20,245.86 606.20,245.88 607.20,245.91 608.20,245.93 609.20,245.95 610.20,245.97 611.20,245.99 612.20,246.02 613.20,246.04 614.20,246.06 615.20,246.08 616.20,246.10 617.20,246.12 618.20,246.14 619.20,246.16 620.20,246.18 621.20,246.20 622.20,246.22 623.20,246.24 624.20,246.25 625.20,246.27 626.20,246.29 627.20,246.31 628.20,246.33 629.20,246.34 630.20,246.36 631.20,246.38 632.20,246.40 633.20,246.41 634.20,246.43 635.20,246.45 636.20,246.46 637.20,246.48 638.20,246.49 639.20,246.51 640.20,246.53 641.20,246.54 642.20,246.56 643.20,246.57 644.20,246.59 645.20,246.60 646.20,246.61 647.20,246.63 648.20,246.64 649.20,246.66 650.20,246.67 651.20,246.68 652.20,246.70 653.20,246.71 654.20,246.72 655.20,246.74 656.20,246.75 657.20,246.76 658.20,246.77 659.20,246.79 660.20,246.80 661.20,246.81 662.20,246.82 663.20,246.83 664.20,246.85 665.20,246.86 666.20,246.87 667.20,246.88 668.20,246.89 669.20,246.90 670.20,246.91 671.20,246.92 672.20,246.93 673.20,246.94 674.20,246.95 675.20,246.96 676.20,246.97 677.20,246.98 678.20,246.99 679.20,247.00 680.20,247.01 681.20,247.02 682.20,247.03 683.20,247.04 684.20,247.04 685.20,247.05 686.20,247.06 687.20,247.07 688.20,247.08 689.20,247.09 690.20,247.09 691.20,247.10 692.20,247.11 693.20,247.12 694.20,247.13 695.20,247.13 696.20,247.14 697.20,247.15 698.20,247.16 699.20,247.16 700.20,247.17 701.20,247.18 702.20,247.18 703.20,247.19 704.20,247.20 705.20,247.20 706.20,247.21 707.20,247.22 708.20,247.22 709.20,247.23 710.20,247.23 711.20,247.24 712.20,247.25 713.20,247.25 714.20,247.26 715.20,247.26 716.20,247.27 717.20,247.27 718.20,247.28 719.20,247.28 720.20,247.29 721.20,247.30 722.20,247.30 723.20,247.31 724.20,247.31 725.20,247.32 726.20,247.32 727.20,247.33 728.20,247.33 729.20,247.33 730.20,247.34 731.20,247.34 732.20,247.35 733.20,247.35 734.20,247.36 735.20,247.36 736.20,247.37 737.20,247.37 738.20,247.37 739.20,247.38 740.20,247.38 741.20,247.39 742.20,247.39 743.20,247.40 744.20,247.40 745.20,247.40 746.20,247.41 747.20,247.41 748.20,247.42 749.20,247.42 750.20,247.42 751.20,247.43 752.20,247.43 753.20,247.43 754.20,247.44 755.20,247.44 756.20,247.45 757.20,247.45 758.20,247.45 759.20,247.46 760.20,247.46 761.20,247.46 762.20,247.47 763.20,247.47 764.20,247.47 765.20,247.48 766.20,247.48 767.20,247.49 768.20,247.49 769.20,247.49 770.20,247.50 771.20,247.50 772.20,247.50 773.20,247.51 774.20,247.51 775.20,247.51 776.20,247.52 777.20,247.52 778.20,247.52 779.20,247.53 780.20,247.53 781.20,247.54 782.20,247.54 783.20,247.54 784.20,247.55 785.20,247.55 786.20,247.55 787.20,247.56 788.20,247.56 789.20,247.56 790.20,247.57 791.20,247.57 792.20,247.57 793.20,247.58 794.20,247.58 795.20,247.59 796.20,247.59 797.20,247.59 798.20,247.60 799.20,247.60 800.20,247.60 801.20,247.61 802.20,247.61 803.20,247.62 804.20,247.62 805.20,247.62 806.20,247.63 807.20,247.63 808.20,247.63 809.20,247.64 810.20,247.64 811.20,247.65 812.20,247.65 813.20,247.65 814.20,247.66 815.20,247.66 816.20,247.67 817.20,247.67 818.20,247.67 819.20,247.68 820.20,247.68 821.20,247.69 822.20,247.69 823.20,247.69 824.20,247.70 825.20,247.70 826.20,247.71 827.20,247.71 828.20,247.72 829.20,247.72 830.20,247.72 831.20,247.73 832.20,247.73 833.20,247.74 834.20,247.74 835.20,247.75 836.20,247.75 837.20,247.76 838.20,247.76 839.20,247.77 840.20,247.77 841.20,247.77 842.20,247.78 843.20,247.78 844.20,247.79 845.20,247.79 846.20,247.80 847.20,247.80 848.20,247.81 849.20,247.81 850.20,247.82 851.20,247.82 852.20,247.83 853.20,247.84 854.20,247.84 855.20,247.85 856.20,247.85 857.20,247.86 858.20,247.86 859.20,247.87 860.20,247.87 861.20,247.88 862.20,247.89 863.20,247.89 864.20,247.90 865.20,247.90 866.20,247.91 867.20,247.92 868.20,247.92 869.20,247.93 870.20,247.93 871.20,247.94 872.20,247.95 873.20,247.95 874.20,247.96 875.20,247.97 876.20,247.97 877.20,247.98 878.20,247.99 879.20,247.99 880.20,248.00 881.20,248.01 882.20,248.01 883.20,248.02 884.20,248.03 885.20,248.03 886.20,248.04 887.20,248.05 888.20,248.06 889.20,248.06 890.20,248.07 891.20,248.08 892.20,248.09 893.20,248.09 894.20,248.10 895.20,248.11 896.20,248.12 897.20,248.13 898.20,248.13 899.20,248.14 900.20,248.15 901.20,248.16 902.20,248.17 903.20,248.17 904.20,248.18 905.20,248.19 906.20,248.20 907.20,248.21 908.20,248.22 909.20,248.23 910.20,248.24 911.20,248.25 912.20,248.25 913.20,248.26 914.20,248.27 915.20,248.28 916.20,248.29 917.20,248.30 918.20,248.31 919.20,248.32 920.20,248.33 921.20,248.34 922.20,248.35 923.20,248.36 924.20,248.37 925.20,248.38 926.20,248.39 927.20,248.40 928.20,248.41 929.20,248.42 930.20,248.44 931.20,248.45 932.20,248.46 933.20,248.47 934.20,248.48 935.20,248.49 936.20,248.50 937.20,248.51 938.20,248.53 939.20,248.54 940.20,248.55 941.20,248.56 942.20,248.57 943.20,248.59 944.20,248.60 945.20,248.61" stroke="#800080"/>
<path d="M123.20,142.84 124.20,142.84 125.20,142.84 126.20,142.85 127.20,142.86 128.20,142.87 129.20,142.88 130.20,142.90 131.20,142.91 132.20,142.93 133.20,142.95 134.20,142.97 135.20,143.00 136.20,143.02 137.20,143.05 138.20,143.07 139.20,143.10 140.20,143.13 141.20,143.16 142.20,143.20 143.20,143.23 144.20,143.27 145.20,143.30 146.20,143.34 147.20,143.37 148.20,143.41 149.20,143.45 150.20,143.49 151.20,143.53 152.20,143.57 153.20,143.61 154.20,143.65 155.20,143.69 156.20,143.73 157.20,143.77 158.20,143.82 159.20,143.86 160.20,143.90 161.20,143.94 162.20,143.98 163.20,144.02 164.20,144.06 165.20,144.10 166.20,144.14 167.20,144.18 168.20,144.22 169.20,144.25 170.20,144.29 171.20,144.32 172.20,144.36 173.20,144.39 174.20,144.42 175.20,144.46 176.20,144.49 177.20,144.52 178.20,144.54 179.20,144.57 180.20,144.60 181.20,144.62 182.20,144.65 183.20,144.68 184.20,144.70 185.20,144.73 186.20,144.76 187.20,144.78 188.20,144.81 189.20,144.84 190.20,144.87 191.20,144.90 192.20,144.93 193.20,144.96 194.20,145.00 195.20,145.03 196.20,145.07 197.20,145.11 198.20,145.15 199.20,145.20 200.20,145.24 201.20,145.29 202.20,145.34 203.20,145.40 204.20,145.45 205.20,145.51 206.20,145.58 207.20,145.64 208.20,145.71 209.20,145.79 210.20,145.87 211.20,145.95 212.20,146.03 213.20,146.12 214.20,146.22 215.20,146.32 216.20,146.42 217.20,146.53 218.20,146.64 219.20,146.76 220.20,146.89 221.20,147.02 222.20,147.15 223.20,147.30 224.20,147.44 225.20,147.60 226.20,147.76 227.20,147.92 228.20,148.10 229.20,148.28 230.20,148.46 231.20,148.66 232.20,148.86 233.20,149.07 234.20,149.29 235.20,149.51 236.20,149.74 237.20,149.98 238.20,150.23 239.20,150.49 240.20,150.75 241.20,151.03 242.20,151.31 243.20,151.60 244.20,151.90 245.20,152.21 246.20,152.53 247.20,152.86 248.20,153.19 249.20,153.54 250.20,153.89 251.20,154.25 252.20,154.62 253.20,155.00 254.20,155.38 255.20,155.78 256.20,156.18 257.20,156.60 258.20,157.02 259.20,157.45 260.20,157.89 261.20,158.33 262.20,158.79 263.20,159.25 264.20,159.73 265.20,160.21 266.20,160.70 267.20,161.20 268.20,161.70 269.20,162.22 270.20,162.74 271.20,163.27 272.20,163.81 273.20,164.35 274.20,164.90 275.20,165.46 276.20,166.02 277.20,166.59 278.20,167.16 279.20,167.74 280.20,168.33 281.20,168.92 282.20,169.51 283.20,170.11 284.20,170.72 285.20,171.32 286.20,171.94 287.20,172.55 288.20,173.17 289.20,173.79 290.20,174.42 291.20,175.05 292.20,175.68 293.20,176.31 294.20,176.95 295.20,177.60 296.20,178.24 297.20,178.89 298.20,179.55 299.20,180.21 300.20,180.87 301.20,181.54 302.20,182.22 303.20,182.90 304.20,183.59 305.20,184.29 306.20,184.99 307.20,185.70 308.20,186.41 309.20,187.14 310.20,187.87 311.20,188.61 312.20,189.35 313.20,190.11 314.20,190.87 315.20,191.65 316.20,192.43 317.20,193.22 318.20,194.02 319.20,194.82 320.20,195.64 321.20,196.45 322.20,197.27 323.20,198.10 324.20,198.93 325.20,199.76 326.20,200.59 327.20,201.42 328.20,202.26 329.20,203.09 330.20,203.92 331.20,204.75 332.20,205.58 333.20,206.40 334.20,207.22 335.20,208.04 336.20,208.85 337.20,209.65 338.20,210.45 339.20,211.24 340.20,212.02 341.20,212.79 342.20,213.55 343.20,214.30 344.20,215.05 345.20,215.79 346.20,216.52 347.20,217.25 348.20,217.97 349.20,218.68 350.20,219.39 351.20,220.09 352.20,220.79 353.20,221.49 354.20,222.18 355.20,222.87 356.20,223.56 357.20,224.24 358.20,224.92 359.20,225.60 360.20,226.28 361.20,226.96 362.20,227.64 363.20,228.32 364.20,229.00 365.20,229.68 366.20,230.36 367.20,231.05 368.20,231.73 369.20,232.42 370.20,233.11 371.20,233.79 372.20,234.48 373.20,235.17 374.20,235.85 375.20,236.54 376.20,237.23 377.20,237.92 378.20,238.60 379.20,239.29 380.20,239.97 381.20,240.66 382.20,241.34 383.20,242.02 384.20,242.70 385.20,243.37 386.20,244.05 387.20,244.72 388.20,245.39 389.20,246.06 390.20,246.73 391.20,247.39 392.20,248.05 393.20,248.70 394.20,249.36 395.20,250.01 396.20,250.65 397.20,251.29 398.20,251.93 399.20,252.57 400.20,253.20 401.20,253.83 402.20,254.45 403.20,255.07 404.20,255.68 405.20,256.29 406.20,256.90 407.20,257.51 408.20,258.10 409.20,258.70 410.20,259.29 411.20,259.88 412.20,260.46 413.20,261.04 414.20,261.61 415.20,262.18 416.20,262.75 417.20,263.31 418.20,263.87 419.20,264.42 420.20,264.97 421.20,265.51 422.20,266.05 423.20,266.58 424.20,267.11 425.20,267.64 426.20,268.16 427.20,268.67 428.20,269.19 429.20,269.69 430.20,270.19 431.20,270.69 432.20,271.18 433.20,271.67 434.20,272.15 435.20,272.63 436.20,273.10 437.20,273.57 438.20,274.03 439.20,274.49 440.20,274.95 441.20,275.40 442.20,275.85 443.20,276.29 444.20,276.73 445.20,277.16 446.20,277.59 447.20,278.02 448.20,278.44 449.20,278.86 450.20,279.27 451.20,279.68 452.20,280.09 453.20,280.49 454.20,280.89 455.20,281.29 456.20,281.68 457.20,282.07 458.20,282.45 459.20,282.83 460.20,283.21 461.20,283.59 462.20,283.96 463.20,284.33 464.20,284.69 465.20,285.05 466.20,285.41 467.20,285.77 468.20,286.12 469.20,286.47 470.20,286.82 471.20,287.16 472.20,287.50 473.20,287.84 474.20,288.18 475.20,288.51 476.20,288.84 477.20,289.17 478.20,289.49 479.20,289.82 480.20,290.14 481.20,290.46 482.20,290.77 483.20,291.09 484.20,291.40 485.20,291.71 486.20,292.01 487.20,292.32 488.20,292.62 489.20,292.92 490.20,293.22 491.20,293.51 492.20,293.81 493.20,294.10 494.20,294.39 495.20,294.68 496.20,294.96 497.20,295.25 498.20,295.53 499.20,295.81 500.20,296.08 501.20,296.36 502.20,296.63 503.20,296.90 504.20,297.17 505.20,297.44 506.20,297.70 507.20,297.97 508.20,298.23 509.20,298.49 510.20,298.74 511.20,299.00 512.20,299.25 513.20,299.51 514.20,299.76 515.20,300.01 516.20,300.25 517.20,300.50 518.20,300.74 519.20,300.98 520.20,301.22 521.20,301.46 522.20,301.70 523.20,301.94 524.20,302.17 525.20,302.40 526.20,302.63 527.20,302.86 528.20,303.09 529.20,303.31 530.20,303.54 531.20,303.76 532.20,303.98 533.20,304.20 534.20,304.42 535.20,304.64 536.20,304.85 537.20,305.07 538.20,305.28 539.20,305.49 540.20,305.70 541.20,305.91 542.20,306.12 543.20,306.33 544.20,306.53 545.20,306.74 546.20,306.94 547.20,307.14 548.20,307.34 549.20,307.54 550.20,307.74 551.20,307.94 552.20,308.13 553.20,308.33 554.20,308.52 555.20,308.71 556.20,308.91 557.20,309.10 558.20,309.29 559.20,309.47 560.20,309.66 561.20,309.85 562.20,310.03 563.20,310.22 564.20,310.40 565.20,310.58 566.20,310.77 567.20,310.95 568.20,311.13 569.20,311.31 570.20,311.48 571.20,311.66 572.20,311.84 573.20,312.01 574.20,312.19 575.20,312.36 576.20,312.53 577.20,312.71 578.20,312.88 579.20,313.05 580.20,313.22 581.20,313.38 582.20,313.55 583.20,313.72 584.20,313.88 585.20,314.05 586.20,314.21 587.20,314.37 588.20,314.54 589.20,314.70 590.20,314.86 591.20,315.02 592.20,315.17 593.20,315.33 594.20,315.49 595.20,315.64 596.20,315.80 597.20,315.95 598.20,316.11 599.20,316.26 600.20,316.41 601.20,316.56 602.20,316.71 603.20,316.86 604.20,317.01 605.20,317.16 606.20,317.31 607.20,317.45 608.20,317.60 609.20,317.74 610.20,317.88 611.20,318.03 612.20,318.17 613.20,318.31 614.20,318.45 615.20,318.59 616.20,318.73 617.20,318.87 618.20,319.01 619.20,319.14 620.20,319.28 621.20,319.41 622.20,319.55 623.20,319.68 624.20,319.81 625.20,319.95 626.20,320.08 627.20,320.21 628.20,320.34 629.20,320.47 630.20,320.60 631.20,320.72 632.20,320.85 633.20,320.98 634.20,321.10 635.20,321.23 636.20,321.35 637.20,321.48 638.20,321.60 639.20,321.72 640.20,321.84 641.20,321.96 642.20,322.08 643.20,322.20 644.20,322.32 645.20,322.44 646.20,322.56 647.20,322.67 648.20,322.79 649.20,322.90 650.20,323.02 651.20,323.13 652.20,323.25 653.20,323.36 654.20,323.47 655.20,323.58 656.20,323.69 657.20,323.80 658.20,323.91 659.20,324.02 660.20,324.13 661.20,324.24 662.20,324.35 663.20,324.45 664.20,324.56 665.20,324.66 666.20,324.77 667.20,324.87 668.20,324.98 669.20,325.08 670.20,325.18 671.20,325.28 672.20,325.38 673.20,325.49 674.20,325.59 675.20,325.69 676.20,325.78 677.20,325.88 678.20,325.98 679.20,326.08 680.20,326.18 681.20,326.27 682.20,326.37 683.20,326.46 684.20,326.56 685.20,326.65 686.20,326.75 687.20,326.84 688.20,326.93 689.20,327.03 690.20,327.12 691.20,327.21 692.20,327.30 693.20,327.39 694.20,327.48 695.20,327.57 696.20,327.66 697.20,327.75 698.20,327.84 699.20,327.93 700.20,328.01 701.20,328.10 702.20,328.19 703.20,328.27 704.20,328.36 705.20,328.45 706.20,328.53 707.20,328.62 708.20,328.70 709.20,328.78 710.20,328.87 711.20,328.95 712.20,329.03 713.20,329.12 714.20,329.20 715.20,329.28 716.20,329.36 717.20,329.44 718.20,329.52 719.20,329.60 720.20,329.68 721.20,329.76 722.20,329.84 723.20,329.92 724.20,330.00 725.20,330.08 726.20,330.15 727.20,330.23 728.20,330.31 729.20,330.39 730.20,330.46 731.20,330.54 732.20,330.62 733.20,330.69 734.20,330.77 735.20,330.84 736.20,330.92 737.20,330.99 738.20,331.07 739.20,331.14 740.20,331.22 741.20,331.29 742.20,331.36 743.20,331.44 744.20,331.51 745.20,331.58 746.20,331.65 747.20,331.73 748.20,331.80 749.20,331.87 750.20,331.94 751.20,332.01 752.20,332.09 753.20,332.16 754.20,332.23 755.20,332.30 756.20,332.37 757.20,332.44 758.20,332.51 759.20,332.58 760.20,332.65 761.20,332.72 762.20,332.79 763.20,332.86 764.20,332.93 765.20,333.00 766.20,333.07 767.20,333.14 768.20,333.21 769.20,333.27 770.20,333.34 771.20,333.41 772.20,333.48 773.20,333.55 774.20,333.62 775.20,333.68 776.20,333.75 777.20,333.82 778.20,333.89 779.20,333.96 780.20,334.02 781.20,334.09 782.20,334.16 783.20,334.23 784.20,334.29 785.20,334.36 786.20,334.43 787.20,334.50 788.20,334.56 789.20,334.63 790.20,334.70 791.20,334.76 792.20,334.83 793.20,334.90 794.20,334.96 795.20,335.03 796.20,335.10 797.20,335.16 798.20,335.23 799.20,335.29 800.20,335.36 801.20,335.43 802.20,335.49 803.20,335.56 804.20,335.62 805.20,335.69 806.20,335.75 807.20,335.82 808.20,335.88 809.20,335.94 810.20,336.01 811.20,336.07 812.20,336.14 813.20,336.20 814.20,336.26 815.20,336.33 816.20,336.39 817.20,336.45 818.20,336.51 819.20,336.58 820.20,336.64 821.20,336.70 822.20,336.76 823.20,336.82 824.20,336.88 825.20,336.94 826.20,337.00 827.20,337.07 828.20,337.13 829.20,337.18 830.20,337.24 831.20,337.30 832.20,337.36 833.20,337.42 834.20,337.48 835.20,337.54 836.20,337.60 837.20,337.65 838.20,337.71 839.20,337.77 840.20,337.82 841.20,337.88 842.20,337.94 843.20,337.99 844.20,338.05 845.20,338.10 846.20,338.16 847.20,338.21 848.20,338.26 849.20,338.32 850.20,338.37 851.20,338.42 852.20,338.48 853.20,338.53 854.20,338.58 855.20,338.63 856.20,338.68 857.20,338.73 858.20,338.78 859.20,338.83 860.20,338.88 861.20,338.93 862.20,338.98 863.20,339.03 864.20,339.08 865.20,339.13 866.20,339.17 867.20,339.22 868.20,339.27 869.20,339.31 870.20,339.36 871.20,339.40 872.20,339.45 873.20,339.49 874.20,339.54 875.20,339.58 876.20,339.62 877.20,339.66 878.20,339.71 879.20,339.75 880.20,339.79 881.20,339.83 882.20,339.87 883.20,339.91 884.20,339.95 885.20,339.99 886.20,340.02 887.20,340.06 888.20,340.10 889.20,340.13 890.20,340.17 891.20,340.21 892.20,340.24 893.20,340.28 894.20,340.31 895.20,340.34 896.20,340.38 897.20,340.41 898.20,340.44 899.20,340.47 900.20,340.50 901.20,340.53 902.20,340.56 903.20,340.59 904.20,340.62 905.20,340.65 906.20,340.67 907.20,340.70 908.20,340.73 909.20,340.75 910.20,340.78 911.20,340.80 912.20,340.82 913.20,340.85 914.20,340.87 915.20,340.89 916.20,340.91 917.20,340.93 918.20,340.95 919.20,340.97 920.20,340.99 921.20,341.01 922.20,341.03 923.20,341.04 924.20,341.06 925.20,341.07 926.20,341.09 927.20,341.10 928.20,341.12 929.20,341.13 930.20,341.14 931.20,341.15 932.20,341.16 933.20,341.17 934.20,341.18 935.20,341.19 936.20,341.20 937.20,341.21 938.20,341.21 939.20,341.22 940.20,341.22 941.20,341.23 942.20,341.23 943.20,341.23 944.20,341.24 945.20,341.24" stroke="#00ffff"/>
<path d="M123.20,142.88 124.20,142.89 125.20,142.90 126.20,142.91 127.20,142.91 128.20,142.91 129.20,142.91 130.20,142.90 131.20,142.89 132.20,142.88 133.20,142.87 134.20,142.86 135.20,142.84 136.20,142.83 137.20,142.81 138.20,142.79 139.20,142.76 140.20,142.74 141.20,142.71 142.20,142.68 143.20,142.66 144.20,142.63 145.20,142.59 146.20,142.56 147.20,142.53 148.20,142.49 149.20,142.45 150.20,142.41 151.20,142.38 152.20,142.34 153.20,142.29 154.20,142.25 155.20,142.21 156.20,142.17 157.20,142.12 158.20,142.08 159.20,142.04 160.20,141.99 161.20,141.95 162.20,141.90 163.20,141.85 164.20,141.81 165.20,141.76 166.20,141.72 167.20,141.67 168.20,141.62 169.20,141.58 170.20,141.53 171.20,141.49 172.20,141.44 173.20,141.39 174.20,141.34 175.20,141.29 176.20,141.24 177.20,141.19 178.20,141.13 179.20,141.07 180.20,141.00 181.20,140.93 182.20,140.86 183.20,140.77 184.20,140.69 185.20,140.59 186.20,140.49 187.20,140.39 188.20,140.27 189.20,140.14 190.20,140.01 191.20,139.87 192.20,139.71 193.20,139.55 194.20,139.38 195.20,139.19 196.20,139.00 197.20,138.79 198.20,138.57 199.20,138.34 200.20,138.10 201.20,137.85 202.20,137.59 203.20,137.32 204.20,137.04 205.20,136.76 206.20,136.46 207.20,136.16 208.20,135.85 209.20,135.54 210.20,135.21 211.20,134.88 212.20,134.55 213.20,134.21 214.20,133.86 215.20,133.51 216.20,133.15 217.20,132.79 218.20,132.43 219.20,132.06 220.20,131.69 221.20,131.32 222.20,130.94 223.20,130.56 224.20,130.18 225.20,129.79 226.20,129.40 227.20,129.01 228.20,128.61 229.20,128.21 230.20,127.81 231.20,127.41 232.20,127.00 233.20,126.59 234.20,126.17 235.20,125.75 236.20,125.33 237.20,124.91 238.20,124.48 239.20,124.05 240.20,123.61 241.20,123.17 242.20,122.73 243.20,122.28 244.20,121.83 245.20,121.38 246.20,120.92 247.20,120.46 248.20,120.00 249.20,119.53 250.20,119.07 251.20,118.60 252.20,118.13 253.20,117.65 254.20,117.18 255.20,116.71 256.20,116.24 257.20,115.77 258.20,115.29 259.20,114.82 260.20,114.36 261.20,113.89 262.20,113.42 263.20,112.96 264.20,112.50 265.20,112.05 266.20,111.60 267.20,111.15 268.20,110.71 269.20,110.27 270.20,109.83 271.20,109.41 272.20,108.98 273.20,108.57 274.20,108.16 275.20,107.75 276.20,107.36 277.20,106.96 278.20,106.58 279.20,106.20 280.20,105.83 281.20,105.46 282.20,105.11 283.20,104.76 284.20,104.41 285.20,104.08 286.20,103.75 287.20,103.43 288.20,103.12 289.20,102.82 290.20,102.52 291.20,102.24 292.20,101.96 293.20,101.69 294.20,101.43 295.20,101.18 296.20,100.94 297.20,100.70 298.20,100.48 299.20,100.27 300.20,100.06 301.20,99.86 302.20,99.67 303.20,99.49 304.20,99.32 305.20,99.16 306.20,99.00 307.20,98.85 308.20,98.71 309.20,98.57 310.20,98.45 311.20,98.33 312.20,98.22 313.20,98.11 314.20,98.01 315.20,97.92 316.20,97.84 317.20,97.76 318.20,97.68 319.20,97.62 320.20,97.56 321.20,97.50 322.20,97.45 323.20,97.41 324.20,97.37 325.20,97.34 326.20,97.32 327.20,97.30 328.20,97.28 329.20,97.27 330.20,97.27 331.20,97.27 332.20,97.27 333.20,97.28 334.20,97.30 335.20,97.32 336.20,97.35 337.20,97.38 338.20,97.41 339.20,97.45 340.20,97.50 341.20,97.55 342.20,97.60 343.20,97.66 344.20,97.72 345.20,97.79 346.20,97.86 347.20,97.93 348.20,98.01 349.20,98.09 350.20,98.18 351.20,98.27 352.20,98.37 353.20,98.46 354.20,98.56 355.20,98.67 356.20,98.78 357.20,98.89 358.20,99.00 359.20,99.12 360.20,99.24 361.20,99.37 362.20,99.49 363.20,99.62 364.20,99.75 365.20,99.89 366.20,100.02 367.20,100.16 368.20,100.30 369.20,100.45 370.20,100.59 371.20,100.74 372.20,100.89 373.20,101.04 374.20,101.19 375.20,101.35 376.20,101.50 377.20,101.66 378.20,101.82 379.20,101.98 380.20,102.14 381.20,102.30 382.20,102.46 383.20,102.62 384.20,102.79 385.20,102.95 386.20,103.12 387.20,103.28 388.20,103.45 389.20,103.61 390.20,103.78 391.20,103.95 392.20,104.11 393.20,104.28 394.20,104.44 395.20,104.61 396.20,104.78 397.20,104.94 398.20,105.11 399.20,105.27 400.20,105.44 401.20,105.61 402.20,105.77 403.20,105.94 404.20,106.10 405.20,106.27 406.20,106.43 407.20,106.60 408.20,106.76 409.20,106.93 410.20,107.09 411.20,107.25 412.20,107.42 413.20,107.58 414.20,107.74 415.20,107.90 416.20,108.06 417.20,108.23 418.20,108.39 419.20,108.55 420.20,108.71 421.20,108.87 422.20,109.03 423.20,109.18 424.20,109.34 425.20,109.50 426.20,109.66 427.20,109.81 428.20,109.97 429.20,110.12 430.20,110.28 431.20,110.43 432.20,110.58 433.20,110.73 434.20,110.88 435.20,111.04 436.20,111.18 437.20,111.33 438.20,111.48 439.20,111.63 440.20,111.78 441.20,111.92 442.20,112.07 443.20,112.21 444.20,112.35 445.20,112.49 446.20,112.64 447.20,112.78 448.20,112.92 449.20,113.06 450.20,113.19 451.20,113.33 452.20,113.47 453.20,113.60 454.20,113.74 455.20,113.87 456.20,114.01 457.20,114.14 458.20,114.27 459.20,114.40 460.20,114.54 461.20,114.67 462.20,114.80 463.20,114.92 464.20,115.05 465.20,115.18 466.20,115.31 467.20,115.43 468.20,115.56 469.20,115.69 470.20,115.81 471.20,115.93 472.20,116.06 473.20,116.18 474.20,116.30 475.20,116.43 476.20,116.55 477.20,116.67 478.20,116.79 479.20,116.91 480.20,117.03 481.20,117.15 482.20,117.27 483.20,117.38 484.20,117.50 485.20,117.62 486.20,117.73 487.20,117.85 488.20,117.97 489.20,118.08 490.20,118.20 491.20,118.31 492.20,118.43 493.20,118.54 494.20,118.65 495.20,118.77 496.20,118.88 497.20,118.99 498.20,119.10 499.20,119.22 500.20,119.33 501.20,119.44 502.20,119.55 503.20,119.66 504.20,119.77 505.20,119.88 506.20,119.99 507.20,120.10 508.20,120.21 509.20,120.32 510.20,120.43 511.20,120.53 512.20,120.64 513.20,120.75 514.20,120.86 515.20,120.96 516.20,121.07 517.20,121.17 518.20,121.28 519.20,121.38 520.20,121.49 521.20,121.59 522.20,121.70 523.20,121.80 524.20,121.90 525.20,122.01 526.20,122.11 527.20,122.21 528.20,122.31 529.20,122.41 530.20,122.51 531.20,122.61 532.20,122.71 533.20,122.81 534.20,122.91 535.20,123.01 536.20,123.11 537.20,123.20 538.20,123.30 539.20,123.40 540.20,123.49 541.20,123.59 542.20,123.68 543.20,123.78 544.20,123.87 545.20,123.96 546.20,124.06 547.20,124.15 548.20,124.24 549.20,124.33 550.20,124.42 551.20,124.51 552.20,124.60 553.20,124.69 554.20,124.78 555.20,124.86 556.20,124.95 557.20,125.04 558.20,125.12 559.20,125.21 560.20,125.29 561.20,125.38 562.20,125.46 563.20,125.54 564.20,125.63 565.20,125.71 566.20,125.79 567.20,125.87 568.20,125.95 569.20,126.03 570.20,126.11 571.20,126.18 572.20,126.26 573.20,126.34 574.20,126.41 575.20,126.49 576.20,126.56 577.20,126.64 578.20,126.71 579.20,126.78 580.20,126.85 581.20,126.93 582.20,127.00 583.20,127.07 584.20,127.13 585.20,127.20 586.20,127.27 587.20,127.34 588.20,127.40 589.20,127.47 590.20,127.53 591.20,127.60 592.20,127.66 593.20,127.73 594.20,127.79 595.20,127.85 596.20,127.91 597.20,127.97 598.20,128.03 599.20,128.09 600.20,128.15 601.20,128.21 602.20,128.27 603.20,128.32 604.20,128.38 605.20,128.44 606.20,128.49 607.20,128.55 608.20,128.60 609.20,128.65 610.20,128.71 611.20,128.76 612.20,128.81 613.20,128.87 614.20,128.92 615.20,128.97 616.20,129.02 617.20,129.07 618.20,129.12 619.20,129.17 620.20,129.22 621.20,129.26 622.20,129.31 623.20,129.36 624.20,129.41 625.20,129.45 626.20,129.50 627.20,129.54 628.20,129.59 629.20,129.63 630.20,129.68 631.20,129.72 632.20,129.77 633.20,129.81 634.20,129.85 635.20,129.90 636.20,129.94 637.20,129.98 638.20,130.02 639.20,130.06 640.20,130.10 641.20,130.15 642.20,130.19 643.20,130.23 644.20,130.27 645.20,130.31 646.20,130.35 647.20,130.38 648.20,130.42 649.20,130.46 650.20,130.50 651.20,130.54 652.20,130.58 653.20,130.61 654.20,130.65 655.20,130.69 656.20,130.72 657.20,130.76 658.20,130.80 659.20,130.83 660.20,130.87 661.20,130.91 662.20,130.94 663.20,130.98 664.20,131.01 665.20,131.05 666.20,131.08 667.20,131.12 668.20,131.15 669.20,131.19 670.20,131.22 671.20,131.26 672.20,131.29 673.20,131.33 674.20,131.36 675.20,131.39 676.20,131.43 677.20,131.46 678.20,131.50 679.20,131.53 680.20,131.56 681.20,131.60 682.20,131.63 683.20,131.67 684.20,131.70 685.20,131.73 686.20,131.77 687.20,131.80 688.20,131.83 689.20,131.87 690.20,131.90 691.20,131.93 692.20,131.97 693.20,132.00 694.20,132.03 695.20,132.06 696.20,132.10 697.20,132.13 698.20,132.16 699.20,132.20 700.20,132.23 701.20,132.26 702.20,132.29 703.20,132.33 704.20,132.36 705.20,132.39 706.20,132.42 707.20,132.46 708.20,132.49 709.20,132.52 710.20,132.55 711.20,132.59 712.20,132.62 713.20,132.65 714.20,132.68 715.20,132.71 716.20,132.74 717.20,132.78 718.20,132.81 719.20,132.84 720.20,132.87 721.20,132.90 722.20,132.93 723.20,132.97 724.20,133.00 725.20,133.03 726.20,133.06 727.20,133.09 728.20,133.12 729.20,133.15 730.20,133.18 731.20,133.21 732.20,133.24 733.20,133.28 734.20,133.31 735.20,133.34 736.20,133.37 737.20,133.40 738.20,133.43 739.20,133.46 740.20,133.49 741.20,133.52 742.20,133.55 743.20,133.58 744.20,133.61 745.20,133.64 746.20,133.67 747.20,133.70 748.20,133.73 749.20,133.76 750.20,133.79 751.20,133.82 752.20,133.84 753.20,133.87 754.20,133.90 755.20,133.93 756.20,133.96 757.20,133.99 758.20,134.02 759.20,134.05 760.20,134.08 761.20,134.10 762.20,134.13 763.20,134.16 764.20,134.19 765.20,134.22 766.20,134.25 767.20,134.27 768.20,134.30 769.20,134.33 770.20,134.36 771.20,134.39 772.20,134.41 773.20,134.44 774.20,134.47 775.20,134.50 776.20,134.52 777.20,134.55 778.20,134.58 779.20,134.60 780.20,134.63 781.20,134.66 782.20,134.69 783.20,134.71 784.20,134.74 785.20,134.77 786.20,134.79 787.20,134.82 788.20,134.84 789.20,134.87 790.20,134.90 791.20,134.92 792.20,134.95 793.20,134.97 794.20,135.00 795.20,135.03 796.20,135.05 797.20,135.08 798.20,135.10 799.20,135.13 800.20,135.15 801.20,135.18 802.20,135.20 803.20,135.23 804.20,135.25 805.20,135.28 806.20,135.30 807.20,135.33 808.20,135.35 809.20,135.38 810.20,135.40 811.20,135.42 812.20,135.45 813.20,135.47 814.20,135.50 815.20,135.52 816.20,135.54 817.20,135.57 818.20,135.59 819.20,135.61 820.20,135.64 821.20,135.66 822.20,135.68 823.20,135.70 824.20,135.73 825.20,135.75 826.20,135.77 827.20,135.79 828.20,135.82 829.20,135.84 830.20,135.86 831.20,135.88 832.20,135.90 833.20,135.93 834.20,135.95 835.20,135.97 836.20,135.99 837.20,136.01 838.20,136.03 839.20,136.05 840.20,136.07 841.20,136.09 842.20,136.11 843.20,136.13 844.20,136.15 845.20,136.17 846.20,136.19 847.20,136.21 848.20,136.23 849.20,136.25 850.20,136.27 851.20,136.29 852.20,136.31 853.20,136.33 854.20,136.35 855.20,136.37 856.20,136.39 857.20,136.40 858.20,136.42 859.20,136.44 860.20,136.46 861.20,136.48 862.20,136.49 863.20,136.51 864.20,136.53 865.20,136.54 866.20,136.56 867.20,136.58 868.20,136.60 869.20,136.61 870.20,136.63 871.20,136.64 872.20,136.66 873.20,136.68 874.20,136.69 875.20,136.71 876.20,136.72 877.20,136.74 878.20,136.75 879.20,136.77 880.20,136.78 881.20,136.80 882.20,136.81 883.20,136.82 884.20,136.84 885.20,136.85 886.20,136.87 887.20,136.88 888.20,136.89 889.20,136.91 890.20,136.92 891.20,136.93 892.20,136.94 893.20,136.96 894.20,136.97 895.20,136.98 896.20,136.99 897.20,137.00 898.20,137.02 899.20,137.03 900.20,137.04 901.20,137.05 902.20,137.06 903.20,137.07 904.20,137.08 905.20,137.09 906.20,137.10 907.20,137.11 908.20,137.12 909.20,137.13 910.20,137.14 911.20,137.15 912.20,137.16 913.20,137.16 914.20,137.17 915.20,137.18 916.20,137.19 917.20,137.20 918.20,137.20 919.20,137.21 920.20,137.22 921.20,137.23 922.20,137.23 923.20,137.24 924.20,137.24 925.20,137.25 926.20,137.26 927.20,137.26 928.20,137.27 929.20,137.27 930.20,137.28 931.20,137.28 932.20,137.29 933.20,137.29 934.20,137.30 935.20,137.30 936.20,137.30 937.20,137.31 938.20,137.31 939.20,137.31 940.20,137.32 941.20,137.32 942.20,137.32 943.20,137.32 944.20,137.32 945.20,137.33" stroke="#808080"/>
</g>
<line x1="123.00" x2="138" y1="142.93" y2="142.93" stroke="#737373" stroke-width="3.6"/>
<line x1="123.00" x2="945.50" y1="142.93" y2="142.93" stroke="#000" stroke-opacity="0.19" stroke-width="1.30"/>
<line x1="123.00" x2="945.50" y1="248.78" y2="248.78" stroke="#000" stroke-opacity="0.25" stroke-width="1.30"/>
<line x1="123.00" x2="945.50" y1="269.95" y2="269.95" stroke="#000" stroke-opacity="0.33" stroke-width="1.30"/>
<line x1="123.00" x2="945.50" y1="354.63" y2="354.63" stroke="#000" stroke-opacity="0.66" stroke-width="1.20"/>
<line x1="123.00" x2="945.50" y1="460.49" y2="460.49" stroke="#000" stroke-opacity="0.66" stroke-width="1.20"/>
<rect x="123.00" y="15.90" width="822.50" height="508.10" fill="none" stroke="#6a6a6a" stroke-width="1.3"/>
<path d="M123.00,524.00v-5.90M123.00,15.90v5.90M164.12,524.00v-4.00M164.12,15.90v4.00M205.25,524.00v-4.00M205.25,15.90v4.00M246.38,524.00v-4.00M246.38,15.90v4.00M287.50,524.00v-4.00M287.50,15.90v4.00M328.62,524.00v-5.90M328.62,15.90v5.90M369.75,524.00v-4.00M369.75,15.90v4.00M410.88,524.00v-4.00M410.88,15.90v4.00M452.00,524.00v-4.00M452.00,15.90v4.00M493.12,524.00v-4.00M493.12,15.90v4.00M534.25,524.00v-5.90M534.25,15.90v5.90M575.38,524.00v-4.00M575.38,15.90v4.00M616.50,524.00v-4.00M616.50,15.90v4.00M657.62,524.00v-4.00M657.62,15.90v4.00M698.75,524.00v-4.00M698.75,15.90v4.00M739.88,524.00v-5.90M739.88,15.90v5.90M781.00,524.00v-4.00M781.00,15.90v4.00M822.13,524.00v-4.00M822.13,15.90v4.00M863.25,524.00v-4.00M863.25,15.90v4.00M904.38,524.00v-4.00M904.38,15.90v4.00M945.50,524.00v-5.90M945.50,15.90v5.90M123.00,15.90h5.90M945.50,15.90h-5.90M123.00,47.66h4.00M945.50,47.66h-4.00M123.00,79.41h4.00M945.50,79.41h-4.00M123.00,111.17h4.00M945.50,111.17h-4.00M123.00,142.93h5.90M945.50,142.93h-5.90M123.00,174.68h4.00M945.50,174.68h-4.00M123.00,206.44h4.00M945.50,206.44h-4.00M123.00,238.19h4.00M945.50,238.19h-4.00M123.00,269.95h5.90M945.50,269.95h-5.90M123.00,301.71h4.00M945.50,301.71h-4.00M123.00,333.46h4.00M945.50,333.46h-4.00M123.00,365.22h4.00M945.50,365.22h-4.00M123.00,396.98h5.90M945.50,396.98h-5.90M123.00,428.73h4.00M945.50,428.73h-4.00M123.00,460.49h4.00M945.50,460.49h-4.00M123.00,492.24h4.00M945.50,492.24h-4.00M123.00,524.00h5.90M945.50,524.00h-5.90" stroke="#6a6a6a" stroke-width="1.1" fill="none"/>
<g font-family="'Liberation Sans', Arial, sans-serif" font-size="34" fill="#666666">
<text transform="translate(123.00,561.10) scale(1,1.030)" text-anchor="middle">0.0</text>
<text transform="translate(328.62,561.10) scale(1,1.030)" text-anchor="middle">0.5</text>
<text transform="translate(534.25,561.10) scale(1,1.030)" text-anchor="middle">1.0</text>
<text transform="translate(739.88,561.10) scale(1,1.030)" text-anchor="middle">1.5</text>
<text transform="translate(945.50,561.10) scale(1,1.030)" text-anchor="middle">2.0</text>
<text transform="translate(115.90,26.40) scale(1,1.030)" text-anchor="end">0.2</text>
<text transform="translate(115.90,153.43) scale(1,1.030)" text-anchor="end">0.0</text>
<text transform="translate(115.90,280.45) scale(1,1.030)" text-anchor="end"><tspan dy="2.9">−</tspan><tspan dx="2" dy="-2.9">0.2</tspan></text>
<text transform="translate(115.90,407.48) scale(1,1.030)" text-anchor="end"><tspan dy="2.9">−</tspan><tspan dx="2" dy="-2.9">0.4</tspan></text>
<text transform="translate(115.90,534.50) scale(1,1.030)" text-anchor="end"><tspan dy="2.9">−</tspan><tspan dx="2" dy="-2.9">0.6</tspan></text>
</g>
<text font-family="'Liberation Sans', Arial, sans-serif" font-size="34.2" fill="#666666" transform="translate(27.4,447.3) rotate(-90)">polynomial coeeficients</text>
<text font-family="'Liberation Sans', Arial, sans-serif" font-size="35" fill="#666666" font-style="italic" x="504" y="612">w/r<tspan font-size="25" dx="0.5" dy="5">0</tspan></text>
<g font-family="'Liberation Sans', Arial, sans-serif" font-size="33" fill="#000000">
<line x1="1005.2" x2="1051.9" y1="93.90" y2="93.90" stroke="#ff0000" stroke-width="3.4"/>
<text transform="translate(1070.2,103.90) scale(0.93,1)" font-style="italic">A</text>
<text x="1090.4" y="109.50" font-size="23.5">2</text>
<line x1="1005.2" x2="1051.9" y1="147.22" y2="147.22" stroke="#ff00ff" stroke-width="3.4"/>
<text transform="translate(1070.2,157.22) scale(0.93,1)" font-style="italic">A</text>
<text x="1090.4" y="162.82" font-size="23.5">4</text>
<line x1="1005.2" x2="1051.9" y1="200.54" y2="200.54" stroke="#0000ff" stroke-width="3.4"/>
<text x="1069" y="209.84">B</text>
<line x1="1005.2" x2="1051.9" y1="253.86" y2="253.86" stroke="#000000" stroke-width="3.4"/>
<text x="1069" y="263.16">C</text>
<line x1="1005.2" x2="1051.9" y1="307.18" y2="307.18" stroke="#00aa00" stroke-width="3.4"/>
<text x="1069" y="316.48">D</text>
<line x1="1005.2" x2="1051.9" y1="360.50" y2="360.50" stroke="#ff8000" stroke-width="3.4"/>
<text x="1069" y="369.80">G</text>
<line x1="1005.2" x2="1051.9" y1="413.82" y2="413.82" stroke="#800080" stroke-width="3.4"/>
<text x="1069" y="423.12">E</text>
<line x1="1005.2" x2="1051.9" y1="467.14" y2="467.14" stroke="#00ffff" stroke-width="3.4"/>
<text x="1069" y="476.44">F</text>
<line x1="1005.2" x2="1051.9" y1="520.46" y2="520.46" stroke="#808080" stroke-width="3.4"/>
<text x="1069" y="529.76">H</text>
</g>
</svg>
</body></html>
